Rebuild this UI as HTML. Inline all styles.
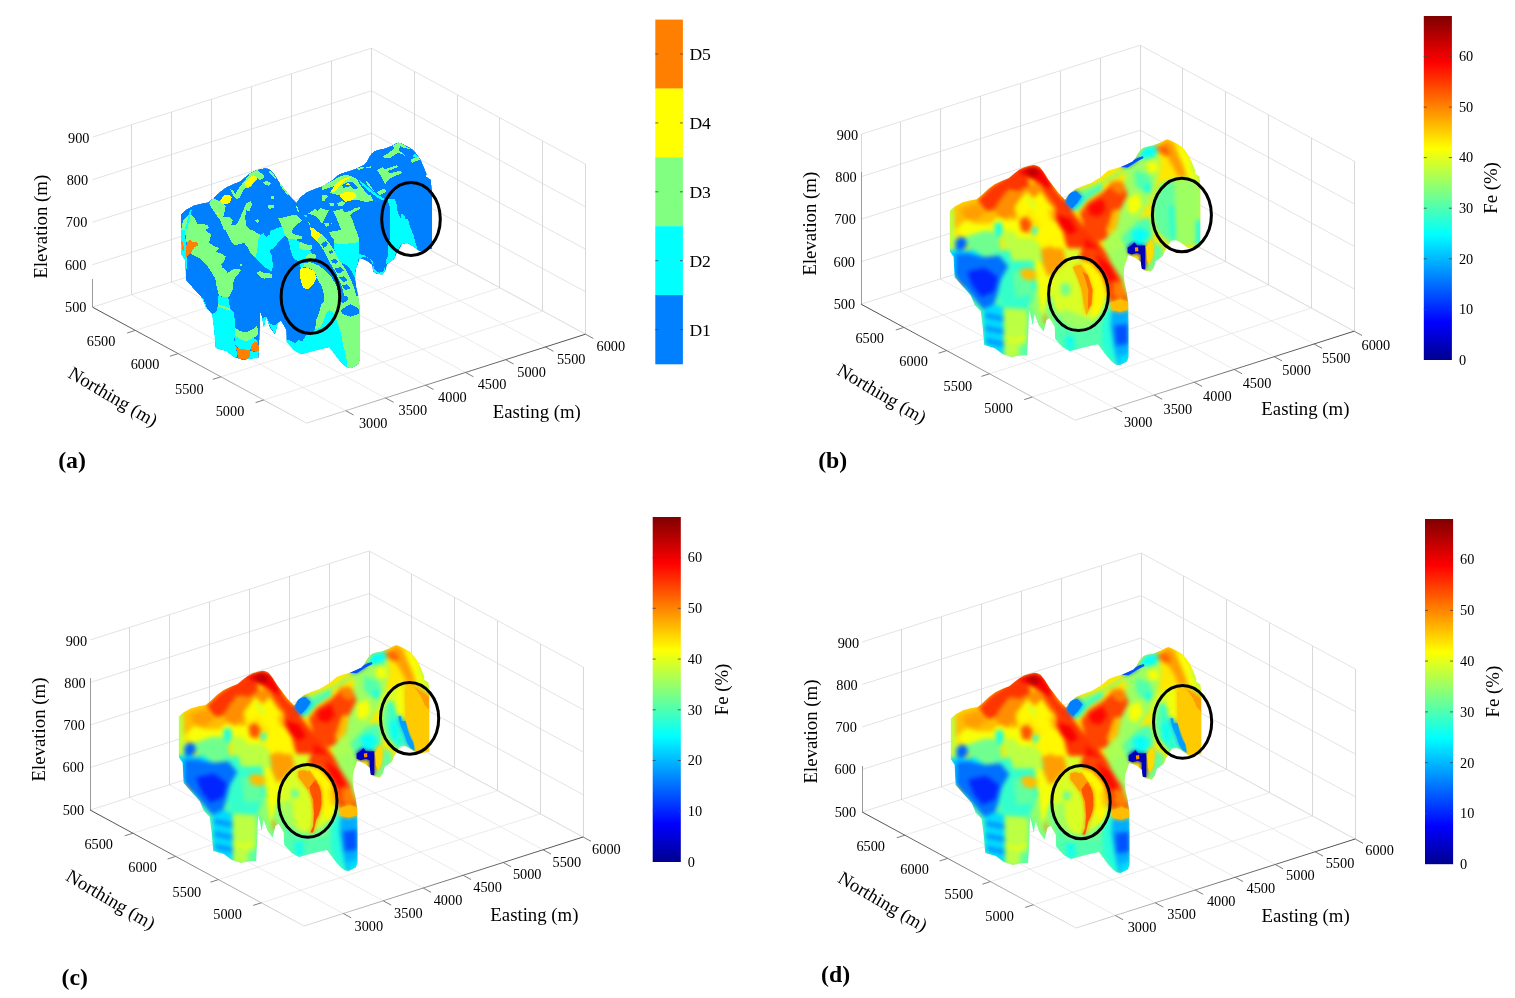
<!DOCTYPE html>
<html lang="en">
<head>
<meta charset="utf-8">
<title>Figure</title>
<style>
html,body{margin:0;padding:0;background:#fff}
body{width:1515px;height:998px;overflow:hidden}
svg{display:block;font-family:"Liberation Serif",serif;fill:#000}
.gv{stroke:#d8d8d8;stroke-width:1;fill:none;shape-rendering:crispEdges}
.gs{stroke:#dadada;stroke-width:.75;fill:none}
.gf{stroke:#e2e2e2;stroke-width:.7;fill:none}
.ax{stroke:#707070;stroke-width:.9;fill:none}
.axn{stroke:url(#gn);stroke-width:1;fill:none}
.axe{stroke:url(#ge);stroke-width:1;fill:none}
.axz{stroke:#9a9a9a;stroke-width:1;fill:none;shape-rendering:crispEdges}
.ct{stroke:#444;stroke-width:.8;fill:none}
.tk{font-size:14.3px}
.al{font-size:18.8px}
.dl{font-size:17.6px}
.pl{font-size:23.8px;font-weight:bold}
.el{fill:none;stroke:#000;stroke-width:3}
</style>
</head>
<body>
<svg width="1515" height="998" viewBox="0 0 1515 998">
<defs>
<linearGradient id="jet" x1="0" y1="1" x2="0" y2="0"><stop offset="0" stop-color="#00008f"/><stop offset="0.11" stop-color="#0000ff"/><stop offset="0.365" stop-color="#00ffff"/><stop offset="0.49" stop-color="#80ff80"/><stop offset="0.615" stop-color="#ffff00"/><stop offset="0.865" stop-color="#ff0000"/><stop offset="1" stop-color="#800000"/></linearGradient>
<linearGradient id="gn" gradientUnits="userSpaceOnUse" x1="92.5" y1="307.2" x2="306.5" y2="423.2"><stop offset="0" stop-color="#4c4c4c"/><stop offset="0.35" stop-color="#6e6e6e"/><stop offset="0.6" stop-color="#a0a0a0"/><stop offset="0.85" stop-color="#cecece"/><stop offset="1" stop-color="#e2e2e2"/></linearGradient>
<linearGradient id="ge" gradientUnits="userSpaceOnUse" x1="306.5" y1="423.2" x2="585.5" y2="334.2"><stop offset="0" stop-color="#dcdcdc"/><stop offset="0.3" stop-color="#a8a8a8"/><stop offset="0.55" stop-color="#707070"/><stop offset="1" stop-color="#505050"/></linearGradient>
<clipPath id="sil"><polygon points="181,214 186,209.5 194,205.2 201,203.5 208,202.2 213,198.2 219,192.5 226,187.2 233,184 240,181.2 245,177 250,173.1 255,170.5 260,169 265,168 268,168.5 271,170 275,175 280,183 285,189.5 290,196 296.4,202.7 300.4,197.2 306.4,192.2 314,189 322,186.2 332,180.2 339,174.1 345,172 352,170 358,167.5 364,164.6 367,161 369,157 371.5,153.5 374.2,151 379,149.5 384,148.6 388,147 392,145.5 395.5,143.5 398.7,142.2 402,143.5 407,146 412.3,149 416.5,153.5 420.3,159 422.5,163.5 424.3,168 426.8,174 426.3,176.6 430.8,179.6 431.5,185 432,190 432,249.5 430.3,249 425,250.5 419.3,251 415.3,248 411,245 407.3,243 402.2,244 399.2,249 396.2,254 394.2,259 390.2,262 387.2,264 385.2,271 382.2,274.6 379.2,274 376,273.5 373.2,271.6 372.2,265 368.5,262 365,260 359.6,258 358.1,263 355.6,270 355.1,278 356.1,286.2 358.1,295.2 359.6,305.2 360,330 360,360 358.3,364.7 351.3,368.2 347.3,367.7 343.3,364.7 338.3,359.2 332.3,351.2 329.3,347.2 316.2,350.2 301.2,354.2 294.1,350.2 286.6,342 286.1,330 281,321 278,323 275,334.6 270,328 266,317 264,328 262,318 260.5,313 259.5,340 258.5,358.5 256.3,358.2 250.2,358.7 243.2,360.2 234.2,357.2 226.2,351.2 215.6,348.1 214.1,330.1 212.1,314 206.1,308 202.1,298.2 193,288.2 186,280.2 185,260 181,254"/></clipPath>
<filter id="bl" x="-10%" y="-10%" width="120%" height="120%" color-interpolation-filters="sRGB"><feGaussianBlur stdDeviation="2.1"/></filter>
<filter id="bs" x="-10%" y="-10%" width="120%" height="120%" color-interpolation-filters="sRGB"><feGaussianBlur stdDeviation="0.7"/></filter>
<g id="js">
<polygon points="359,250.6 362.6,248.4 365.8,245.2 368.4,248.4 376.5,248.4 376.7,272.2 372.2,272.2 372.2,257.5 368.4,256 363,257.5 359,256" fill="#0000bc"/>
<polygon points="366.2,250.6 369.5,250.2 369.8,254.2 366.6,254.6" fill="#ff8e00"/>
<polygon points="377.4,250.2 382.1,243 385.1,248.4 384.2,259.3 380.6,267.4 378.3,262.9" fill="#ffda00"/>
<polygon points="297.3,204.8 300.4,196.1 307.6,194 313,199.4 308.5,206.1 303.4,211.5" fill="#0080ff"/>
<polygon points="351.8,170 362.6,164.6 369.8,160.4 374.3,159.2 374.9,161.1 368,164.7 359,170.5" fill="#0052ff"/>
<polygon points="341.9,305.7 351.8,302.2 359.9,304.9 359.9,312.2 351.8,314.7 343.1,313.1" fill="#ffbc00"/>
<polygon points="304,270.1 312.1,267.4 319.7,278.3 324.4,292.7 323.3,307.1 317.9,318.3 315.3,307.1 313,292.7 309.4,281.9" fill="#ffac00"/>
<polygon points="313.9,274.6 319.3,278.3 323.8,292.7 322.9,307.1 319.3,312.5 319.7,292.7 316.6,281.9" fill="#ff7100"/>
</g>
<g id="jb">
<polygon points="159.4,120 321.9,120 321.9,230.6 159.4,230.6" fill="#ff5300"/>
<polygon points="179.4,216.3 193.5,204.2 207.5,200.2 210.5,204.2 217.6,213.3 223.6,218.3 219.6,223.3 209.5,224.3 199.5,226.3 189.5,230.6 179.4,230.6" fill="#ffca00"/>
<polygon points="185.5,218.3 199.5,210.3 209.5,212.3 213.5,220.3 204.5,223.3 194.5,226.3 185.5,230.6" fill="#ffe800"/>
<polygon points="179.4,212.3 184.4,212.3 185.5,220.3 184.4,230.6 179.4,230.6" fill="#bcff43"/>
<polygon points="213.5,195.2 225.6,187.2 239.6,181.2 248.7,174.1 252.7,182.2 245.7,188.2 241.6,196.2 239.6,206.3 233.6,215.3 223.6,218.3 217.6,213.3 210.5,204.2 212.5,199.2" fill="#ff7100"/>
<polygon points="211.5,199.2 217.6,200.2 225.6,206.3 223.6,213.3 217.6,210.3 211.5,205.2" fill="#ff2500"/>
<polygon points="231.6,189.2 239.6,191.2 240.6,196.2 237.6,199.2 233.6,195.2" fill="#ff3500"/>
<polygon points="248.7,174.1 254.7,169.6 264.7,167.1 271.2,169.1 275.2,175.1 279.8,184.2 274.7,186.2 269.7,184.2 264.7,182.2 259.7,180.2 254.7,177.2" fill="#ff0700"/>
<polygon points="256.7,173.1 263.7,174.1 264.7,178.2 261.7,180.2 257.7,177.2" fill="#ca0000"/>
<polygon points="263.7,180.7 269.7,181.2 270.7,184.2 265.7,185.2" fill="#da0000"/>
<polygon points="252.7,182.2 259.7,186.2 265.7,190.2 271.7,194.2 275.8,202.2 269.7,200.2 263.7,192.2 255.7,194.2 249.7,202.2 245.7,208.3 239.6,206.3 241.6,196.2 245.7,188.2" fill="#ff9e00"/>
<polygon points="255.7,194.2 263.7,192.2 269.7,199.2 271.7,206.3 268.7,215.3 263.7,220.3 259.7,230.6 249.7,230.6 246.7,220.3 248.7,210.3 251.7,202.2" fill="#f8ff07"/>
<polygon points="258.7,197.2 264.7,196.2 267.7,204.2 264.7,210.3 259.7,208.3" fill="#caff35"/>
<polygon points="259.7,216.3 268.7,215.3 273.7,220.3 269.7,230.6 259.7,230.6" fill="#ffda00"/>
<polygon points="274.7,175.1 279.8,184.2 289.8,194.2 297.3,203.7 302.8,213.3 309.9,224.3 312.9,230.6 284.8,230.6 281.8,220.3 277.8,210.3 275.8,202.2 271.7,194.2 269.7,184.2" fill="#ff4300"/>
<polygon points="278.8,182.2 289.8,194.2 296.8,203.7 294.8,206.3 287.8,198.2 279.8,189.2" fill="#f80000"/>
<polygon points="275.8,202.2 281.8,200.2 287.8,206.3 289.8,215.3 286.8,220.3 281.8,220.3 277.8,210.3" fill="#ffbc00"/>
<polygon points="288.8,215.3 294.8,213.3 299.8,218.3 297.8,222.3 291.8,223.3" fill="#f80000"/>
<polygon points="268.7,205.2 273.7,204.7 274.2,208.3 269.7,208.8" fill="#ff8e00"/>
<polygon points="189.5,230.6 199.5,226.3 209.5,224.3 219.6,223.3 223.6,218.3 233.6,215.3 239.6,216.3 244.6,216.3 245.7,224.3 239.6,225.3 233.6,223.3 227.6,226.3 225.6,230.6" fill="#f8ff07"/>
<polygon points="245.7,209.3 249.7,210.3 253.7,215.3 252.7,222.3 248.7,228.3 245.7,224.3 244.6,216.3" fill="#52ffac"/>
<polygon points="227.6,226.3 233.6,223.3 239.6,225.3 237.6,230.6 225.6,230.6" fill="#16ffe9"/>
<polygon points="241.6,213.3 244.6,212.3 246.7,218.3 243.6,222.3 240.6,220.3" fill="#ff9e00"/>
<polygon points="305.9,191.2 322.4,186 322.4,195.2 313.9,198.2 311.9,194.2" fill="#52ffac"/>
<polygon points="300.8,209.3 304.8,206.3 309.9,200.2 313.9,198.2 322.4,195.2 322.4,202.2 309.9,209.3 303.8,214.3" fill="#07fff8"/>
<polygon points="296.8,204.2 299.8,196.2 305.9,191.2 311.9,194.2 309.9,200.2 304.8,206.3 300.8,209.3" fill="#008eff"/>
<polygon points="303.8,214.3 322.4,201.7 322.4,204.2 304.8,216.5" fill="#fff800"/>
<polygon points="304.8,216.5 322.4,204.2 322.4,230.6 312.9,230.6 309.9,224.3" fill="#ff5300"/>
<polygon points="321.4,120 473.9,120 473.9,230.6 321.4,230.6" fill="#acff53"/>
<polygon points="321.4,184.7 331.4,179.2 338.5,174.1 351.5,170.1 355.5,172.1 346.5,176.2 339.5,182.2 331.4,188.2 321.4,190.2" fill="#ffbc00"/>
<polygon points="321.4,190.2 331.4,188.2 337.5,186.2 338.5,190.2 331.4,196.2 321.4,200.2" fill="#43ffbc"/>
<polygon points="355.5,172.1 361.5,174.1 365.5,180.2 369.6,187.2 375.6,194.2 381.6,200.2 383.6,210.3 382.6,230.6 341.5,230.6 346.5,215.3 351.5,206.3 356.5,198.2 355.5,190.2 349.5,185.2 341.5,184.2 339.5,182.2 346.5,176.2" fill="#f8ff07"/>
<polygon points="321.4,200.2 331.4,196.2 338.5,190.2 341.5,184.2 349.5,185.2 355.5,190.2 356.5,198.2 351.5,206.3 346.5,215.3 344.5,225.3 341.5,230.6 321.4,230.6" fill="#ff4300"/>
<polygon points="321.4,204.2 331.4,200.2 339.5,194.2 343.5,200.2 339.5,210.3 335.4,220.3 327.4,226.3 321.4,220.3" fill="#ff1700"/>
<polygon points="346.5,200.2 356.5,198.2 354.5,206.3 349.5,212.3 346.5,215.3" fill="#ff8e00"/>
<polygon points="358.5,186.2 361.5,185.2 363.5,190.2 360.5,192.2" fill="#ffbc00"/>
<polygon points="371.6,216.3 379.6,218.3 381.6,224.3 375.6,222.3" fill="#ffca00"/>
<polygon points="355.5,171.1 375.6,161.1 386.6,155.1 389.6,157.1 393.6,155.1 399.7,164.1 403.7,172.1 406.7,180.2 397.7,186.2 391.6,194.2 381.6,198.2 377.6,194.2 371.6,186.2 365.5,180.2 361.5,174.1" fill="#70ff8e"/>
<polygon points="377.6,170.1 386.6,166.1 394.6,168.1 397.7,173.1 391.6,176.2 383.6,175.1" fill="#e8ff17"/>
<polygon points="365.5,180.2 369.6,181.2 377.6,190.2 382.6,195.2 380.6,198.2 375.6,194.2 369.6,187.2" fill="#16ffe9"/>
<polygon points="368.6,154.1 373.6,150.1 383.6,147.6 391.6,146.1 386.6,155.1 377.6,159.1 371.6,161.1 367.6,160.1" fill="#07fff8"/>
<polygon points="350.5,170.6 361.5,164.6 367.6,159.6 371.6,161.1 377.6,159.1 375.6,161.1 364.5,167.1 355.5,171.6" fill="#0052ff"/>
<polygon points="401.7,150.1 411.7,148.1 417.7,157.1 421.7,163.1 424.7,170.1 426.7,175.1 432.3,179.7 432.3,186.2 421.7,182.2 417.7,180.2 415.7,176.2 411.7,168.1 406.7,160.1" fill="#f8ff07"/>
<polygon points="417.7,159.1 421.7,163.1 425.7,170.1 427.8,175.1 424.7,174.1 420.7,168.1" fill="#9eff62"/>
<polygon points="393.6,155.1 401.7,153.1 406.7,160.1 411.7,168.1 415.7,176.2 417.7,180.2 406.7,180.2 403.7,172.1 399.7,164.1" fill="#ffac00"/>
<polygon points="390.6,146.1 398.7,141.5 404.7,143 411.7,148.1 415.7,154.1 411.7,156.1 406.7,152.1 401.7,150.1 397.7,150.1 393.6,153.1 389.6,157.1 386.6,155.1" fill="#ff8e00"/>
<polygon points="387.6,152.1 395.6,149.1 399.7,152.1 395.6,156.1 390.6,157.1" fill="#ff6200"/>
<polygon points="397.7,186.2 406.7,180.2 417.7,180.2 421.7,182.2 432.3,186.2 432.3,200.2 406.7,200.2 397.7,194.2" fill="#bcff43"/>
<polygon points="381.6,198.2 391.6,194.2 397.7,186.2 406.7,186.2 406.7,230.6 382.6,230.6 383.6,210.3" fill="#43ffbc"/>
<polygon points="406.7,190.2 432.3,192.2 432.3,230.6 406.7,230.6" fill="#8eff71"/>
<polygon points="401.7,210.3 405.7,209.3 406.7,230.6 402.7,230.6" fill="#16ffe9"/>
<polygon points="425.7,215.3 432.3,215.3 432.3,230.6 425.7,230.6" fill="#62ff9e"/>
<polygon points="159.4,230 321.9,230 321.9,330.6 159.4,330.6" fill="#52ffac"/>
<polygon points="179.4,230 193.5,230 192.5,236 189.5,240 185.5,244 181.4,250.1 179.4,250.1" fill="#fff800"/>
<polygon points="193.5,230 229.6,230 231.6,240 239.6,245 247.7,250.1 251.7,256.1 249.7,263.1 243.6,270.1 241.6,264.1 231.6,260.1 225.6,259.1 219.6,255.1 209.5,255.1 199.5,250.1 198.5,245 196.5,242 192.5,236" fill="#9eff62"/>
<polygon points="193.5,253.1 199.5,250.1 209.5,255.1 219.6,255.1 225.6,259.1 221.6,262.1 211.5,263.1 202.5,259.1" fill="#16ffe9"/>
<polygon points="179.4,250.1 186.5,256.1 186.5,282.2 184.4,276.2 182.4,260.1 179.4,260.1" fill="#07fff8"/>
<polygon points="186.5,256.1 193.5,253.1 202.5,259.1 211.5,263.1 221.6,262.1 225.6,268.1 231.6,272.1 239.6,269.1 241.6,271.1 235.6,278.2 233.6,286.2 229.6,294.2 228.6,300.2 229.6,306.3 225.6,304.2 219.6,302.2 213.5,308.3 212.5,313.3 207.5,310.3 201.5,298.2 194.5,290.2 186.5,282.2" fill="#0080ff"/>
<polygon points="187,245 190.5,239.5 196.5,242 198.5,245 193.5,250.1 189.5,254.1 186.5,256.1" fill="#0052ff"/>
<polygon points="201.5,278.2 214.5,280.2 229.6,272.1 233.6,282.2 229.6,290.2 219.6,286.2 209.5,290.2 209.5,300.2 202.5,296.2 195.5,286.2" fill="#0035ff"/>
<polygon points="217.6,286.2 225.6,286.2 226.6,294.2 219.6,296.2" fill="#008eff"/>
<polygon points="227.6,230 234.6,230 233.6,238 229.6,240" fill="#07fff8"/>
<polygon points="234.6,230 249.7,230 252.7,238 259.7,242 269.7,244 271.7,260.1 273.7,270.1 277.8,280.2 279.8,292.2 275.8,298.2 273.7,290.2 259.7,282.2 251.7,278.2 249.7,270.1 249.7,263.1 251.7,256.1 247.7,250.1 239.6,245 231.6,240 233.6,238" fill="#e8ff17"/>
<polygon points="248.7,233 254.7,230 261.7,230 264.7,236 261.7,240 254.7,239 250.7,237" fill="#ff5300"/>
<polygon points="265.7,233 269.7,233.5 269.2,238 266.2,237.5" fill="#16ffe9"/>
<polygon points="269.7,244 279.8,240 287.8,241 291.8,250.1 289.8,260.1 284.8,268.1 277.8,274.1 273.7,270.1 271.7,260.1" fill="#ffac00"/>
<polygon points="250.7,274.1 254.7,271.1 261.7,273.1 265.7,277.2 261.7,281.2 255.7,282.2 251.7,278.2" fill="#ffbc00"/>
<polygon points="287.8,241 299.8,238 303.8,242 309.9,250.1 315.9,256.1 307.9,260.1 299.8,262.1 291.8,260.1 291.8,250.1" fill="#f8ff07"/>
<polygon points="284.8,230 322.4,230 322.4,260.1 315.9,256.1 309.9,250.1 303.8,242 299.8,238 289.8,236" fill="#ff4300"/>
<polygon points="307.9,234 322.4,233 322.4,256.1 316.9,253.1 311.9,245" fill="#ff0700"/>
<polygon points="264.7,230 284.8,230 289.8,236 279.8,240 269.7,244 264.7,236" fill="#ffbc00"/>
<polygon points="229.6,294.2 235.6,278.2 241.6,271.1 249.7,270.1 251.7,278.2 259.7,282.2 273.7,290.2 275.8,298.2 274.7,310.3 269.7,312.3 259.7,310.3 254.7,306.3 239.6,306.3 231.6,304.2" fill="#34ffcb"/>
<polygon points="247.7,286.2 259.7,286.2 269.7,294.2 269.7,306.3 259.7,302.2 249.7,296.2" fill="#80ff80"/>
<polygon points="273.7,290.2 279.8,292.2 279.3,310.3 274.7,315.3" fill="#f8ff07"/>
<polygon points="235.6,310.3 255.7,310.3 256.7,330.6 234.6,330.6" fill="#bcff43"/>
<polygon points="212.5,313.3 219.6,302.2 229.6,306.3 234.6,310.3 234.6,330.6 213.5,330.6" fill="#00daff"/>
<polygon points="256.7,312.3 265.7,312.3 264.7,330.6 259.7,318.3" fill="#16ffe9"/>
<polygon points="265.7,312.3 273.7,310.3 275.8,320.3 274.7,330.6 267.7,330.6" fill="#acff53"/>
<polygon points="275.2,317.3 277.3,317.3 277.3,326.3 275.2,326.3" fill="#ff8e00"/>
<polygon points="279.8,292.2 284.8,268.1 299.8,262.1 309.9,267.1 322.4,282.2 322.4,330.6 279.8,330.6" fill="#caff35"/>
<polygon points="292.8,288.2 298.8,287.2 300.8,294.2 296.8,300.2 291.8,296.2" fill="#62ff9e"/>
<polygon points="287.8,300.2 299.8,302.2 309.9,310.3 309.9,330.6 289.8,330.6" fill="#8eff71"/>
<polygon points="309.9,267.1 322.4,263.1 322.4,282.2 315.9,275.1" fill="#fff800"/>
<polygon points="304.8,270.1 309.9,267.1 315.9,275.1 322.4,282.2 322.4,320.3 317.9,310.3 314.9,295.2 309.9,282.2" fill="#ff9e00"/>
<polygon points="321.4,230 473.9,230 473.9,330.6 321.4,330.6" fill="#52ffac"/>
<polygon points="321.4,230 341.5,230 339.5,236 334.4,243 331.4,247.1 325.4,238 321.4,233" fill="#ff9e00"/>
<polygon points="334.4,243 339.5,236 341.5,230 357.5,230 356.5,238 351.5,242 341.5,246.1 337.5,255.1" fill="#f8ff07"/>
<polygon points="341.5,246.1 351.5,242 356.5,238 358.5,243 359,258.1 355.5,270.1 355,278.2 350.5,272.1 344.5,263.1 337.5,255.1" fill="#acff53"/>
<polygon points="355.5,255.1 359.5,258.1 357.5,270.1 355,270.1" fill="#43ffbc"/>
<polygon points="321.4,233 325.4,238 331.4,247.1 337.5,255.1 344.5,263.1 350.5,272.1 353.5,280.2 356.5,290.2 358.5,300.2 360,304.2 341.5,304.2 339.5,294.2 336.4,282.2 331.4,270.1 325.4,262.1 321.4,260.1" fill="#ff4300"/>
<polygon points="341.5,278.2 351.5,277.2 355.5,290.2 357.5,300.2 346.5,300.2" fill="#ff8000"/>
<polygon points="327.4,250.1 335.4,256.1 341.5,266.1 337.5,270.1 331.4,262.1" fill="#ff2500"/>
<polygon points="357.5,230 383.6,230 381.6,240 377.6,248.1 365.5,245 361.5,247.1 358.5,243" fill="#07fff8"/>
<polygon points="359.5,251.1 365.5,245 377.6,248.1 376.6,257.1 375.6,271.6 373.1,271.6 372.6,260.1 369.6,254.1 363.5,257.1 359.5,257.1" fill="#0000bc"/>
<polygon points="365.5,251.6 369.1,251.1 369.6,254.6 366,255.1" fill="#ff8e00"/>
<polygon points="359.5,257.1 363.5,257.1 369.6,254.1 372.6,260.1 372.6,265.1 364.5,260.1" fill="#62ff9e"/>
<polygon points="377.6,248.1 381.6,240 384.6,235 385.6,245 384.6,260.1 381.6,267.1 378.6,268.1 376.1,262.1 376.6,257.1" fill="#ffda00"/>
<polygon points="385.6,245 391.6,248.1 397.7,250.1 395.6,254.1 393.6,259.1 386.6,264.1 384.6,271.1 381.6,274.6 378.6,274.1 375.6,271.6 378.6,268.1 381.6,267.1 384.6,260.1" fill="#62ff9e"/>
<polygon points="383.6,230 432.3,230 432.3,250.1 418.7,251.1 411.7,247.1 406.7,243 401.7,244 397.7,250.1 391.6,248.1 385.6,245 384.6,235" fill="#70ff8e"/>
<polygon points="383.6,230 406.7,230 406.7,243 401.7,244 397.7,250.1 391.6,248.1 385.6,245" fill="#43ffbc"/>
<polygon points="427.8,238 432.3,238 432.3,250.1 427.8,250.1" fill="#00bcff"/>
<polygon points="391.6,246.1 398.7,245 399.7,250.1 395.6,254.1 391.6,250.1" fill="#07fff8"/>
<polygon points="321.4,263.1 327.4,265.1 334.4,278.2 338.5,290.2 339.5,300.2 338,320.3 331.4,326.3 321.4,330.6" fill="#f8ff07"/>
<polygon points="321.4,286.2 323.9,288.2 323.4,304.2 321.4,304.2" fill="#ff9e00"/>
<polygon points="341.5,306.3 349.5,303.2 360,305.2 360.5,312.3 351.5,316.3 343.5,314.3" fill="#ffca00"/>
<polygon points="337.5,320.3 343.5,316.3 351.5,317.3 360.5,313.3 361,330.6 337.5,330.6" fill="#00e9ff"/>
<polygon points="347.5,323.3 360.5,320.3 361,330.6 346.5,330.6" fill="#008eff"/>
<polygon points="321.4,330.6 331.4,326.3 338,320.3 337.5,330.6" fill="#62ff9e"/>
<polygon points="159.4,330.1 321.9,330.1 321.9,410.4 159.4,410.4" fill="#52ffac"/>
<polygon points="202.5,300 217.6,300 213.5,313 210.5,314 205.5,308" fill="#0043ff"/>
<polygon points="213.5,313 217.6,300 231.6,300 234.6,312 235.6,330.1 234.6,348.2 236.6,357.2 233.6,359.2 225.6,352.2 214.5,349.2 212.5,330.1" fill="#00e9ff"/>
<polygon points="217.6,308 231.6,313 233.6,317.1 219.6,313" fill="#009eff"/>
<polygon points="217.6,322.1 231.6,325.1 233.6,329.1 219.6,326.1" fill="#009eff"/>
<polygon points="216.6,338.1 233.6,341.1 233.6,347.2 217.6,344.1" fill="#009eff"/>
<polygon points="231.6,300 259.7,300 259.7,312 255.7,313 235.6,311 234.6,306" fill="#43ffbc"/>
<polygon points="235.6,311 255.7,313 258.7,330.1 258.7,350.2 256.7,359.2 249.7,360.2 243.6,361.7 237.6,359.2 235.6,348.2 235.1,330.1" fill="#bcff43"/>
<polygon points="236.6,338.1 245.7,342.1 257.7,337.1 257.7,340.1 245.7,345.1 236.6,341.1" fill="#e8ff17"/>
<polygon points="250.7,351.2 258.7,350.2 256.7,359.2 249.7,360.2" fill="#52ffac"/>
<polygon points="259.7,300 265.7,300 265.7,326.1 263.7,329.1 261.7,326.1 259.7,318.1" fill="#07fff8"/>
<polygon points="265.7,312 274.7,315 277.3,325.1 274.7,334.6 269.7,327.1 265.7,326.1" fill="#acff53"/>
<polygon points="273.7,300 279.8,300 278.8,314 275.8,317.1 274.7,315" fill="#f8ff07"/>
<polygon points="275.2,317.1 277.8,317.1 277.8,326.6 275.2,326.6" fill="#ff8e00"/>
<polygon points="279.8,300 322.4,300 322.4,348.2 313.9,352.2 300.8,355.2 293.8,352.2 285.8,341.1 285.8,333.1 279.8,321.1" fill="#62ff9e"/>
<polygon points="285.8,341.1 297.8,343.1 304.8,340.1 322.4,342.1 322.4,348.2 313.9,352.2 300.8,355.2 293.8,352.2" fill="#16ffe9"/>
<polygon points="171.4,160.1 445.6,133 445.6,313.9 171.4,313.9" fill="#ffe800"/>
<polygon points="178.6,214.2 194.8,205.2 211.1,199.7 218.3,214.2 225.5,212.4 229.1,219.6 221.9,226.8 207.5,226.8 196.7,223.2 189.4,230.4 178.6,234" fill="#ffbc00"/>
<polygon points="193,212.4 207.5,207 216.5,216 207.5,223.2 196.7,221.4" fill="#ff9e00"/>
<polygon points="178.6,210.6 185.8,210.6 186.7,259.3 178.6,259.3" fill="#bcff43"/>
<polygon points="189.4,230.4 196.7,223.2 207.5,226.8 221.9,226.8 229.1,219.6 239.9,223.2 243.6,234 236.3,241.2 225.5,234 214.7,234 203.9,237.6 193,241.2" fill="#f8ff07"/>
<polygon points="186.7,241.2 193,241.2 203.9,237.6 214.7,234 225.5,234 230.9,241.2 232.7,255.7 225.5,262.9 214.7,259.3 203.9,252 196.7,248.4 186.7,255.7" fill="#70ff8e"/>
<polygon points="225.5,226.8 232.7,225 234.5,234 230.9,241.2 227.3,237.6" fill="#16ffe9"/>
<polygon points="186.7,244.8 191.2,239.4 196.7,241.2 198.5,248.4 193,253.9 187.6,255.7" fill="#0062ff"/>
<polygon points="178.6,255.7 187.6,255.7 193,253.9 203.9,252 214.7,259.3 225.5,262.9 230.9,270.1 221.9,273.7 207.5,270.1 196.7,273.7 189.4,266.5 178.6,262.9" fill="#00e9ff"/>
<polygon points="178.6,262.9 189.4,266.5 189.4,284.5 182.2,277.3" fill="#07fff8"/>
<polygon points="185.8,273.7 196.7,273.7 207.5,270.1 221.9,273.7 230.9,270.1 239.9,270.1 239.9,277.3 232.7,288.1 229.1,298.9 225.5,313.9 207.5,313.9 200.3,295.3 189.4,284.5" fill="#0070ff"/>
<polygon points="207.5,277.3 225.5,275.5 232.7,282.7 225.5,295.3 211.1,295.3" fill="#0025ff"/>
<polygon points="209.3,202.4 221.9,189.8 236.3,180.8 249,171.8 258,179.9 261.6,187.1 250.8,194.3 239.9,192.5 232.7,201.5 225.5,212.4 218.3,214.2 212.9,208.8" fill="#ff3500"/>
<polygon points="225.5,212.4 232.7,201.5 239.9,192.5 250.8,194.3 261.6,187.1 268.8,185.3 272.4,194.3 265.2,201.5 258,194.3 249,205.2 243.6,212.4 239.9,223.2 229.1,219.6" fill="#ff8e00"/>
<polygon points="268.8,179.9 279.6,180.8 289.5,196.1 298.6,205.2 304.9,216 297.7,219.6 286.8,208.8 276,194.3" fill="#ff3500"/>
<polygon points="247.2,172.7 265.2,166.9 274.2,171.2 280.5,181.7 284.1,188.9 276,190.7 268.8,185.3 258,179.9" fill="#f80000"/>
<polygon points="256.2,171.8 268.8,171.8 269.7,179 261.6,180.3" fill="#bc0000"/>
<polygon points="268.8,185.3 276,194.3 286.8,208.8 286.8,223.2 279.6,205.2 272.4,194.3" fill="#ff7100"/>
<polygon points="249,205.2 258,194.3 265.2,201.5 272.4,194.3 279.6,205.2 286.8,212.4 283.2,223.2 272.4,226.8 265.2,219.6 261.6,210.6 256.2,217.8 249,216" fill="#fff800"/>
<polygon points="256.2,197.9 265.2,203.3 268.8,214.2 261.6,208.8" fill="#daff25"/>
<polygon points="239.9,223.2 250.8,223.2 252.6,234 259.8,235.8 265.2,241.2 250.8,241.2 243.6,234" fill="#f8ff07"/>
<polygon points="250.8,223.2 258,219.6 263.4,226.8 259.8,235.8 252.6,234" fill="#ff5300"/>
<polygon points="241.7,212.4 245.7,210.6 247.5,221.4 243.6,223.2" fill="#ff8e00"/>
<polygon points="263.4,230.4 268.8,230.4 269.7,237.6 264.3,238.5" fill="#16ffe9"/>
<polygon points="268.8,234 279.6,230.4 283.2,241.2 276,248.4 268.8,244.8" fill="#caff35"/>
<polygon points="279.6,212.4 286.8,212.4 290.4,223.2 283.2,226.8" fill="#ffbc00"/>
<polygon points="232.7,234 243.6,234 250.8,241.2 265.2,241.2 272.4,248.4 268.8,259.3 258,262.9 247.2,259.3 236.3,252" fill="#bcff43"/>
<polygon points="230.9,270.1 239.9,259.3 250.8,262.9 258,270.1 256.2,280.9 247.2,288.1 239.9,295.3 232.7,313.9 225.5,313.9 229.1,298.9 232.7,288.1 239.9,277.3" fill="#43ffbc"/>
<polygon points="247.2,288.1 256.2,280.9 265.2,284.5 279.6,295.3 281.4,313.9 239.9,313.9 239.9,295.3" fill="#80ff80"/>
<polygon points="265.2,241.2 272.4,226.8 283.2,223.2 294.1,226.8 297.7,241.2 301.3,255.7 297.7,270.1 286.8,277.3 272.4,280.9 261.6,277.3 258,270.1 268.8,259.3 272.4,248.4" fill="#fff800"/>
<polygon points="272.4,255.7 279.6,248.4 288.6,252 290.4,262.9 286.8,273.7 277.8,275.5 272.4,266.5" fill="#ffac00"/>
<polygon points="250.8,275.5 258,271.9 265.2,277.3 261.6,284.5 252.6,282.7" fill="#ffbc00"/>
<polygon points="286.8,208.8 297.7,219.6 304.9,216 315.7,230.4 326.5,241.2 337.3,255.7 348.2,273.7 355.4,291.7 359.9,313.9 341,313.9 333.7,295.3 326.5,280.9 315.7,266.5 304.9,259.3 297.7,248.4 294.1,234 286.8,223.2" fill="#ff3500"/>
<polygon points="288.6,217.8 301.3,221.4 308.5,234 301.3,237.6 292.3,230.4" fill="#f80000"/>
<polygon points="315.7,241.2 326.5,248.4 333.7,262.9 326.5,266.5 317.5,255.7" fill="#ff0700"/>
<polygon points="333.7,273.7 344.6,277.3 351.8,295.3 344.6,302.6 337.3,288.1" fill="#ff7100"/>
<polygon points="296.8,205.2 300.4,195.2 308.5,193.4 313.9,199.7 308.5,207 303.1,212.4" fill="#008eff"/>
<polygon points="303.1,212.4 308.5,207 313.9,199.7 326.5,192.5 333.7,187.1 333.7,192.5 319.3,201.5 308.5,214.2" fill="#16ffe9"/>
<polygon points="308.5,193.4 315.7,191.6 333.7,184.4 351.8,173.6 352.7,177.2 333.7,187.1 326.5,192.5 313.9,199.7" fill="#70ff8e"/>
<polygon points="308.5,214.2 319.3,201.5 333.7,192.5 351.8,177.2 357.2,178.1 344.6,186.2 333.7,196.1 319.3,205.2 311.2,216.3" fill="#ffe800"/>
<polygon points="311.2,216.3 319.3,205.2 333.7,196.1 344.6,185.3 355.4,187.1 359,197.9 351.8,212.4 348.2,230.4 341,241.2 330.1,244.8 326.5,241.2 315.7,230.4" fill="#ff4300"/>
<polygon points="319.3,208.8 333.7,201.5 337.3,212.4 330.1,219.6 321.1,217.8" fill="#ff0700"/>
<polygon points="341,185.3 351.8,183.5 357.2,190.7 353.6,197.9 344.6,194.3" fill="#ff8000"/>
<polygon points="344.6,212.4 351.8,212.4 348.2,230.4 341,241.2 337.3,234" fill="#ffbc00"/>
<polygon points="351.8,173.6 369.8,157.4 387.9,148.3 391.5,169.1 387.9,187.1 380.6,205.2 369.8,223.2 359,234 351.8,241.2 348.2,230.4 351.8,212.4 359,197.9 355.4,187.1 357.2,178.1" fill="#9eff62"/>
<polygon points="359,201.5 369.8,196.1 373.4,208.8 366.2,217.8 359,214.2" fill="#f8ff07"/>
<polygon points="377,165.5 387.9,163.7 389.7,174.5 380.6,176.3" fill="#f8ff07"/>
<polygon points="366.2,172.7 380.6,178.1 384.2,190.7 373.4,194.3 366.2,187.1" fill="#52ffac"/>
<polygon points="375.2,187.1 382.4,188.9 381.5,196.1 376.1,195.2" fill="#16ffe9"/>
<polygon points="350.9,170 362.6,164 369.8,159.7 368,164.6 359,170" fill="#0052ff"/>
<polygon points="368.9,159.2 375.2,150.1 389.7,147.1 390.6,154.6 384.2,160.1 375.2,161.9" fill="#07fff8"/>
<polygon points="386,151 399,142 405.9,147.4 409.5,156.4 414.9,169.1 418.5,179.9 409.5,179.9 404.1,169.1 398.7,160.1 391.5,156.4" fill="#ff9e00"/>
<polygon points="387.9,151 396.9,148.3 402.3,156.4 395.1,158.3" fill="#ff6200"/>
<polygon points="405.9,147.4 412.2,148.9 423.9,165.5 432,179.9 432,187.1 418.5,179.9 414.9,169.1 409.5,156.4" fill="#f8ff07"/>
<polygon points="420.3,163.7 425.7,167.3 432.9,181.7 432.9,187.1 427.5,179.9" fill="#acff53"/>
<polygon points="384.2,205.2 391.5,187.1 405.9,181.7 407.7,248.4 398.7,244.8 387.9,234 384.2,219.6" fill="#62ff9e"/>
<polygon points="405.9,181.7 418.5,179.9 432.9,187.1 432.9,250.2 420.3,248.4 407.7,248.4" fill="#9eff62"/>
<polygon points="400.5,208.8 405.9,208.8 406.8,241.2 402.3,241.2" fill="#25ffda"/>
<polygon points="427.5,223.2 432.9,223.2 432.9,248.4 427.5,248.4" fill="#16ffe9"/>
<polygon points="351.8,241.2 359,234 369.8,223.2 380.6,219.6 384.2,230.4 384.2,244.8 380.6,259.3 373.4,248.4 362.6,248.4 359,252" fill="#52ffac"/>
<polygon points="362.6,234 373.4,230.4 380.6,237.6 373.4,248.4 365.3,245.7" fill="#07fff8"/>
<polygon points="359,250.2 365.3,245.2 368,248.4 376.1,248.4 376.7,272.2 372.2,272.2 372.2,257.5 368,255.7 362.6,257.5 359,255.7" fill="#0000bc"/>
<polygon points="365.8,250.2 369.5,249.9 369.8,254.2 366.2,254.6" fill="#ff8e00"/>
<polygon points="377,248.4 382.4,241.2 385.7,248.4 384.8,259.3 380.6,267.4 377.9,262.9" fill="#ffca00"/>
<polygon points="384.8,244.8 393.3,248.4 395.1,259.3 387.9,270.1 380.6,275.5 377,271.9 380.6,267.4 384.8,259.3" fill="#62ff9e"/>
<polygon points="333.7,244.8 348.2,230.4 351.8,241.2 359,252 359,259.3 359.9,277.3 359,295.3 351.8,288.1 344.6,270.1 337.3,255.7" fill="#acff53"/>
<polygon points="355.4,248.4 359.9,252 360.4,295.3 356.3,288.1" fill="#52ffac"/>
<polygon points="281.4,295.3 290.4,273.7 308.5,261.1 326.5,270.1 337.3,288.1 339.1,313.9 281.4,313.9" fill="#daff25"/>
<polygon points="312.1,262.9 326.5,270.1 337.3,288.1 339.1,313.9 324.7,313.9 324.7,291.7 321.1,277.3" fill="#fff800"/>
<polygon points="304.9,270.1 313.9,266.5 321.1,277.3 324.7,291.7 323.8,313.9 313.9,313.9 313.9,295.3 310.3,280.9" fill="#ff9e00"/>
<polygon points="292.3,288.1 301.3,286.3 303.1,295.3 295.9,298.9" fill="#70ff8e"/>
<polygon points="171.4,289.1 445.6,289.1 445.6,433.9 171.4,433.9" fill="#52ffac"/>
<polygon points="225.5,253 283.2,253 283.2,307.1 225.5,307.1" fill="#52ffac"/>
<polygon points="178.6,253 200.3,253 207.5,260.2 196.7,263.8 189.4,271 185.8,278.3 178.6,271" fill="#00daff"/>
<polygon points="186.7,256.6 200.3,256.6 214.7,260.2 230.9,258.4 239.9,269.2 232.7,281.9 229.1,296.3 225.5,307.1 214.7,312.5 203.9,299.9 194.8,289.1 186.7,280.1" fill="#0070ff"/>
<polygon points="198.5,274.6 216.5,271 229.1,280.1 225.5,294.5 212.9,299.9 203.9,289.1" fill="#0025ff"/>
<polygon points="230.9,258.4 239.9,253 256.2,253 265.2,263.8 268.8,289.1 261.6,312.5 258,312.5 234.5,310.7 229.1,296.3 232.7,281.9 239.9,269.2" fill="#34ffcb"/>
<polygon points="243.6,274.6 261.6,274.6 265.2,298.1 247.2,299.9" fill="#62ff9e"/>
<polygon points="239.9,251.2 272.4,251.2 272.4,263.8 243.6,263.8" fill="#bcff43"/>
<polygon points="243.6,263.8 272.4,263.8 279.6,280.1 277.8,307.1 272.4,321.5 268.8,289.1 265.2,263.8" fill="#f8ff07"/>
<polygon points="250.8,272.8 261.6,271 268.8,276.4 265.2,283.7 254.4,281.9" fill="#ffbc00"/>
<polygon points="272.4,251.2 294.1,251.2 297.7,263.8 290.4,274.6 279.6,280.1 274.2,267.4" fill="#ff9e00"/>
<polygon points="279.6,280.1 290.4,274.6 297.7,263.8 286.8,274.6 281.4,296.3 277.8,307.1" fill="#f8ff07"/>
<polygon points="294.1,251.2 313.9,251.2 310.3,261.1 297.7,263.8" fill="#daff25"/>
<polygon points="214.7,312.5 225.5,307.1 234.5,310.7 235.4,359.4 225.5,354 215.6,347.7" fill="#00daff"/>
<polygon points="216.5,316.1 234.5,319.7 234.9,324.2 216.9,320.6" fill="#008eff"/>
<polygon points="216.5,328.8 234.9,332.4 234.9,336.9 216.9,333.3" fill="#008eff"/>
<polygon points="217.4,341.4 234.9,345 234.9,349.5 218.3,345.9" fill="#008eff"/>
<polygon points="235.4,310.7 258,312.5 259.2,325.2 256.5,359.4 243.6,361.2 235.4,359.4" fill="#bcff43"/>
<polygon points="236.3,338.7 247.2,342.3 258,337.8 258,341.4 247.2,345.9 236.3,342.3" fill="#e8ff17"/>
<polygon points="250.8,348.6 258,346.8 256.5,359.4 249.9,360.3" fill="#62ff9e"/>
<polygon points="258.9,312.5 268.8,289.1 272.4,321.5 277.8,307.1 281.4,307.1 286.8,328.8 286.8,337.8 279.6,325.2 277.8,321.5 276,335.1 268.8,328.8 261.6,312.5" fill="#8eff71"/>
<polygon points="275.1,317.9 277.8,317.9 277.8,327 275.1,327" fill="#ff8e00"/>
<polygon points="286.8,328.8 297.7,332.4 308.5,334.2 322.9,332.4 333.7,325.2 339.1,312.5 342.8,328.8 344.6,346.8 348.2,369.3 339.1,360.3 330.1,347.7 308.5,353.1 297.7,354 287.7,348.6" fill="#52ffac"/>
<polygon points="295.9,339.6 304.9,337.8 306.7,352.2 297.7,354" fill="#16ffe9"/>
<polygon points="333.7,325.2 339.1,312.5 342.8,312.5 341.9,328.8 344.6,346.8 349.1,369.3 339.1,360.3 333.7,346.8" fill="#25ffda"/>
<polygon points="342.8,312.5 360.8,312.5 360.8,363.9 351.8,368.4 349.1,369.3 344.6,346.8 341.9,328.8" fill="#00acff"/>
<polygon points="345.5,328.8 359,327 359.9,346.8 347.3,348.6" fill="#0052ff"/>
<polygon points="349.1,359.4 360.8,355.8 360.8,363.9 351.8,368.4" fill="#00daff"/>
<polygon points="341,305.3 351.8,301.7 360.3,304.4 360.3,312.5 351.8,315.2 342.8,313.4" fill="#ffca00"/>
<polygon points="313.9,251.2 326.5,251.2 341,263.8 351.8,280.1 359,298.1 360.3,305.3 351.8,301.7 341,305.3 337.3,289.1 330.1,274.6 321.1,263.8" fill="#ff4300"/>
<polygon points="326.5,256.6 341,267.4 348.2,281.9 341,285.5 331.9,271" fill="#ff0700"/>
<polygon points="344.6,285.5 353.6,285.5 359,298.1 351.8,301.7 344.6,298.1" fill="#ff8000"/>
<polygon points="341,263.8 344.6,251.2 359.9,251.2 360.8,298.1 359,298.1 351.8,280.1" fill="#9eff62"/>
<polygon points="281.4,296.3 286.8,274.6 297.7,263.8 310.3,261.1 322.9,265.6 333.7,278.3 339.1,296.3 333.7,314.3 322.9,328.8 310.3,333.3 297.7,328.8 286.8,316.1" fill="#daff25"/>
<polygon points="286.8,316.1 297.7,312.5 315.7,319.7 324.7,321.5 322.9,328.8 310.3,333.3 297.7,328.8" fill="#9eff62"/>
<polygon points="292.3,287.3 299.5,285.5 303.1,292.7 297.7,299.9 292.3,296.3" fill="#70ff8e"/>
<polygon points="312.1,263.8 322.9,265.6 333.7,278.3 339.1,296.3 333.7,314.3 324.7,321.5 322.9,307.1 323.8,292.7 319.3,278.3" fill="#fff800"/>
<polygon points="304.9,269.2 312.1,267.4 319.3,278.3 323.8,292.7 322.9,307.1 317.5,317.9 315.7,307.1 313.9,292.7 310.3,281.9" fill="#ff9e00"/>
<polygon points="359,251.2 377,251.2 376.5,271 372.5,271 372.5,256.6 362.6,256.6" fill="#0000bc"/>
<polygon points="377,251.2 385.1,251.2 383.3,265.6 378.8,268.3" fill="#ffca00"/>
<polygon points="385.1,251.2 396,251.2 387.9,269.2 380.6,275.5 377,271 383.3,265.6" fill="#62ff9e"/>
</g>
</defs>
<rect width="1515" height="998" fill="#fff"/>
<g id="panel-a">
<g transform="translate(0 0)">
<path class="gf" d="M131.7 294.7L345.7 410.7M171.6 282L385.6 398M211.6 269.2L425.6 385.2M251.6 256.5L465.6 372.5M291.6 243.7L505.6 359.7M331.5 231L545.5 347M371.5 218.2L585.5 334.2M135.3 330.4L414.3 241.4M178.1 353.6L457.1 264.6M220.9 376.8L499.9 287.9M263.7 400L542.7 311.1"/>
<path class="gs" d="M92.5 307.2L371.5 218.2M92.5 264.7L371.5 175.8M92.5 222.2L371.5 133.2M92.5 179.7L371.5 90.8M92.5 137.2L371.5 48.2M371.5 218.2L585.5 334.2M371.5 175.8L585.5 291.8M371.5 133.2L585.5 249.2M371.5 90.8L585.5 206.8M371.5 48.2L585.5 164.2"/>
<path class="gv" d="M131.7 294.7L131.7 124.7M171.6 282L171.6 112M211.6 269.2L211.6 99.2M251.6 256.5L251.6 86.5M291.6 243.7L291.6 73.7M331.5 231L331.5 61M371.5 218.2L371.5 48.2M414.3 241.4L414.3 71.4M457.1 264.6L457.1 94.6M499.9 287.9L499.9 117.9M542.7 311.1L542.7 141.1M585.5 334.2L585.5 164.2"/>
<line class="axz" x1="92.5" y1="307.2" x2="92.5" y2="279.1"/>
<line class="axn" x1="92.5" y1="307.2" x2="306.5" y2="423.2"/>
<line class="axe" x1="306.5" y1="423.2" x2="585.5" y2="334.2"/>
<path class="ax" d="M135.3 330.4L127.2 333M178.1 353.6L170 356.2M220.9 376.8L212.8 379.4M263.7 400L255.6 402.6M345.7 410.7L353.6 415M385.6 398L393.6 402.3M425.6 385.2L433.5 389.5M465.6 372.5L473.5 376.8M505.6 359.7L513.5 364M545.5 347L553.4 351.3M585.5 334.2L593.4 338.5"/>
<g clip-path="url(#sil)" shape-rendering="crispEdges">
<polygon points="181,214 186,209.5 194,205.2 201,203.5 208,202.2 213,198.2 219,192.5 226,187.2 233,184 240,181.2 245,177 250,173.1 255,170.5 260,169 265,168 268,168.5 271,170 275,175 280,183 285,189.5 290,196 296.4,202.7 300.4,197.2 306.4,192.2 314,189 322,186.2 332,180.2 339,174.1 345,172 352,170 358,167.5 364,164.6 367,161 369,157 371.5,153.5 374.2,151 379,149.5 384,148.6 388,147 392,145.5 395.5,143.5 398.7,142.2 402,143.5 407,146 412.3,149 416.5,153.5 420.3,159 422.5,163.5 424.3,168 426.8,174 426.3,176.6 430.8,179.6 431.5,185 432,190 432,249.5 430.3,249 425,250.5 419.3,251 415.3,248 411,245 407.3,243 402.2,244 399.2,249 396.2,254 394.2,259 390.2,262 387.2,264 385.2,271 382.2,274.6 379.2,274 376,273.5 373.2,271.6 372.2,265 368.5,262 365,260 359.6,258 358.1,263 355.6,270 355.1,278 356.1,286.2 358.1,295.2 359.6,305.2 360,330 360,360 358.3,364.7 351.3,368.2 347.3,367.7 343.3,364.7 338.3,359.2 332.3,351.2 329.3,347.2 316.2,350.2 301.2,354.2 294.1,350.2 286.6,342 286.1,330 281,321 278,323 275,334.6 270,328 266,317 264,328 262,318 260.5,313 259.5,340 258.5,358.5 256.3,358.2 250.2,358.7 243.2,360.2 234.2,357.2 226.2,351.2 215.6,348.1 214.1,330.1 212.1,314 206.1,308 202.1,298.2 193,288.2 186,280.2 185,260 181,254" fill="#0080FF"/>
<polygon points="230.2,189.2 232.7,190.2 235.2,194.2 240.2,186.2 245.2,180.2 250.3,173.1 257.3,170.1 259.3,172.1 264.3,175.1 263.3,178.2 260.3,180.2 257.3,178.2 254.3,182.2 250.3,187.2 245.2,188.2 242.2,192.2 239.2,198.2 236.2,199.2 233.2,195.2" fill="#80FF80"/>
<polygon points="246.3,181.2 250.3,177.2 253.3,175.1 256.3,176.2 257.3,179.2 254.3,181.2 251.3,185.2 248.3,187.2 245.2,186.2 244.7,183.2" fill="#FFFF00"/>
<polygon points="263.3,182.2 266.3,181.2 270.3,182.2 270.8,184.2 268.3,185.7 264.3,184.2" fill="#80FF80"/>
<polygon points="268.3,171.1 271.3,171.6 276.4,178.2 275.3,179.2 271.3,175.1" fill="#80FF80"/>
<polygon points="279.4,184.2 281.4,184.7 290.4,196.2 289.4,197.2 283.4,190.2" fill="#80FF80"/>
<polygon points="295.9,206.3 297.4,206.3 299.4,211.3 297.9,211.3" fill="#80FF80"/>
<polygon points="271.3,196.2 273.3,195.7 274.3,198.2 272.3,199.2" fill="#80FF80"/>
<polygon points="267.3,205.7 272.8,204.7 273.8,207.8 269.3,208.8" fill="#80FF80"/>
<polygon points="255.3,220.3 257.8,219.3 259.3,221.8 257.3,223.3" fill="#80FF80"/>
<polygon points="209.1,203.2 213.1,198.2 222.2,202.2 225.7,206.3 224.2,213.3 223.2,217.3 230.2,217.3 232.7,220.3 231.2,225.3 235.2,225.3 238.2,222.3 240.2,217.3 243.2,210.3 246.3,203.2 250.3,201.2 252.3,204.2 249.3,211.3 246.3,210.3 245.2,217.3 246.3,226.3 250.3,230.3 224.2,230.3 220.2,220.3 215.1,213.3 211.1,207.3" fill="#80FF80"/>
<polygon points="220.2,200.2 224.2,195.2 230.2,195.2 231.7,197.2 230.2,202.2 226.2,204.2 222.2,204.2" fill="#FFFF00"/>
<polygon points="216.2,212.8 218.2,212.3 219.7,214.8 217.7,215.3" fill="#FFFF00"/>
<polygon points="181,230.3 183,220.3 188.1,215.3 192.1,215.3 196.1,220.3 197.1,224.3 203.1,223.8 208.1,225.3 208.6,227.8 205.1,230.3" fill="#80FF80"/>
<polygon points="185,229.3 190.1,210.3 191.6,210.3 187.1,229.3" fill="#00FFFF"/>
<polygon points="277.9,218.3 280.4,217.3 285.4,218.3 290.4,216.3 296.4,214.3 299.4,217.3 301.4,220.3 298.4,223.3 294.4,226.3 291.9,230.3 280.4,230.3 278.9,223.3" fill="#80FF80"/>
<polygon points="307.5,213.3 314.5,209.3 318.5,208.3 322,208.3 323,224.3 318.5,218.3 315.5,214.3 310.5,215.3" fill="#80FF80"/>
<polygon points="304.4,215.3 307.5,214.3 307,216.8 304.9,217.3" fill="#00FFFF"/>
<polygon points="275.3,227.8 283.4,226.8 284.4,230.3 274.3,230.3" fill="#00FFFF"/>
<polygon points="392.2,146.1 398.8,142.2 402.3,144 407.3,147.1 411.3,149.1 404.3,148.1 400.3,146.1 398.3,150.1 401.3,152.1 405.3,156.1 402.3,154.1 398.3,153.1 394.2,155.1 391.2,157.6 384.2,157.6 383.2,156.1 388.2,153.1 392.2,150.1 394.2,148.1" fill="#80FF80"/>
<polygon points="412.3,156.1 415.3,153.6 418.8,157.1 416.3,158.1" fill="#00FFFF"/>
<polygon points="410.3,160.1 414.3,158.1 418.3,157.1 419.8,159.6 416.3,161.1 412.3,163.1" fill="#80FF80"/>
<polygon points="377.2,170.1 382.2,167.1 385.2,169.1 397.2,165.1 398.3,167.1 387.2,171.1 390.2,173.1 400.3,170.6 402.3,173.1 392.2,177.2 388.2,180.2 385.2,184.2 382.2,178.2" fill="#80FF80"/>
<polygon points="357.1,168.6 363.1,166.6 364.1,168.1 358.1,170.1" fill="#80FF80"/>
<polygon points="366.1,167.1 371.2,166.3 371.4,167.6 366.6,168.3" fill="#80FF80"/>
<polygon points="322,185.7 332,181.2 338.1,177.2 344.1,175.1 351.1,175.7 357.1,179.2 359.1,183.2 364.1,190.2 369.2,195.2 373.2,201.7 365.1,202.2 362.1,200.2 356.1,199.2 347.1,202.2 343.6,202.2 340.1,196.2 335,194.2 330,193.2 334,186.2 328,188.2 322,190.2" fill="#80FF80"/>
<polygon points="342.1,185.2 347.1,182.2 352.1,182.2 356.1,185.2 358.1,188.2 354.1,189.2 350.1,186.2 346.1,187.2 343.1,188.2" fill="#0080FF"/>
<polygon points="330.5,192.2 335,184.2 342.1,179.2 349.1,176.7 351.1,177.7 344.1,181.2 339.1,186.2 335,192.2" fill="#FFFF00"/>
<polygon points="339.1,195.2 345.1,192.2 354.1,192.2 356.6,196.2 352.1,198.2 347.1,199.2 346.1,201.7 343.1,202.2 341.1,198.2" fill="#FFFF00"/>
<polygon points="345.6,183.7 349.1,183.2 351.1,185.2 347.1,185.2" fill="#FFFF00"/>
<polygon points="359.1,180.2 362.1,182.2 374.2,192.2 382.2,198.2 384.2,200.2 383.2,201.7 378.2,198.2 370.2,192.2 362.1,185.2" fill="#00FFFF"/>
<polygon points="365.6,180.2 368.2,182.2 374.2,191.2 372.2,190.2 367.1,184.2" fill="#80FF80"/>
<polygon points="377.2,192.2 382.2,189.2 386.2,189.7 385.7,192.2 380.2,194.7 377.7,194.2" fill="#80FF80"/>
<polygon points="386.2,200.2 390.2,198.2 393.2,198.7 396.7,202.2 398.3,210.3 399.8,215.3 401.3,214.3 403.3,215.3 404.3,218.3 407.3,219.3 408.3,225.3 410.3,230.3 390.2,230.3 390.2,206.3 387.2,204.2" fill="#00FFFF"/>
<polygon points="322,209.3 328,210.3 326,216.3 322,220.3" fill="#80FF80"/>
<polygon points="333,210.3 337,208.3 343.1,207.3 345.1,209.3 348.1,210.3 359.1,207.3 360.1,208.8 351.1,213.3 355.1,224.3 355.1,230.3 341.1,230.3 338.1,220.3 334,213.3" fill="#80FF80"/>
<polygon points="329,203.7 333,203.2 333.5,205 330,205.4" fill="#80FF80"/>
<polygon points="324,223.8 328,222.8 332,224.3 331,226.3 326,227.8" fill="#80FF80"/>
<polygon points="181,230 185,230 186.1,250.1 187.1,257.1 186.1,278.2 185,276.2 184,262.1 181.5,258.1" fill="#00FFFF"/>
<polygon points="185,230 205.1,230 209.1,233 211.1,235 209.1,243 214.1,246.1 219.2,248.1 216.2,251.6 222.2,254.1 225.7,256.6 224.2,261.1 221.2,264.1 222.2,267.6 226.2,270.1 227.7,273.1 230.2,271.1 234.2,269.1 240.2,269.1 240.7,271.1 235.2,277.2 233.2,283.2 232.7,289.2 230.2,295.2 228.2,297.2 219.2,296.2 217.2,289.2 215.1,278.2 210.1,270.1 205.1,263.1 199.1,258.1 193.1,255.1 190.1,253.1 194.1,247.6 198.6,245 196.1,241.5 192.1,242 190.1,239.5 186.6,243 185.6,236" fill="#80FF80"/>
<polygon points="186.6,243 190.1,239.5 192.1,242 196.1,241.5 198.6,245 194.1,247.6 191.6,252.1 188.6,254.6 186.1,257.1" fill="#FF8000"/>
<polygon points="181,241 182.5,242 184,247.6 183.8,251.6 182.5,250.1" fill="#FF8000"/>
<polygon points="225.7,230 252.3,230 257.3,233 260.3,235 258.3,240 257.3,250.1 255.3,257.6 250.3,253.1 247.3,247.1 244.2,243 240.2,244 235.2,245 232.2,243 229.2,237" fill="#80FF80"/>
<polygon points="260.3,235 263.3,233 266.3,237 270.3,234 278.4,230 285.4,230 284.4,236 280.4,240 275.3,247.1 270.3,249.1 271.3,260.1 273.3,267.1 272.3,271.1 268.3,269.1 264.3,267.1 260.3,263.1 255.3,258.1 257.3,250.1 258.3,240" fill="#00FFFF"/>
<polygon points="283.4,230 291.4,230 294.4,234 302.4,235 303.4,238 297.4,238 290.4,239.5 285.4,236" fill="#80FF80"/>
<polygon points="288.4,240 296.4,239 299.4,243 299.4,249.1 308.5,251.1 309.5,254.1 304.4,260.1 300.4,262.1 294.4,260.1 291.4,253.1 289.4,246.1" fill="#00FFFF"/>
<polygon points="299.4,243 302.4,242 308.5,245 312.5,247.1 310.5,250.1 308.5,251.1 299.4,249.1" fill="#80FF80"/>
<polygon points="256.3,272.1 260.3,271.1 264.3,273.1 271.3,273.1 272.3,277.2 264.3,278.7 260.3,277.2" fill="#80FF80"/>
<polygon points="239.7,264.1 241.7,263.6 242.4,265.3 240.7,266.1" fill="#80FF80"/>
<polygon points="303.4,263.1 310.5,261.1 320.5,263.1 322.5,264.1 322.5,282.2 318.5,277.2 315.5,272.1 310.5,268.1 302.4,267.6" fill="#80FF80"/>
<polygon points="299.9,269.1 303.4,267.1 310.5,268.6 315,273.1 316,278.2 312.5,284.2 309.5,289.2 305.4,289.2 302.4,286.2 300.4,278.2" fill="#FFFF00"/>
<polygon points="218.2,296.2 228.2,297.2 230.2,308.3 234.2,313.3 235.2,330.3 214.1,330.3 213.1,317.3 216.2,310.3 218.2,304.2" fill="#00FFFF"/>
<polygon points="218.2,304.2 230.2,308.3 230.2,311.3 218.2,307.3" fill="#80FF80"/>
<polygon points="202.1,298.2 203.6,299.2 207.1,308.3 213.1,317.3 212.1,318.3 206.1,309.3" fill="#00FFFF"/>
<polygon points="203.1,298.2 218.2,298.2 218.2,310.3 215.7,313.3 213.1,316.3 207.6,308.3" fill="#0080FF"/>
<polygon points="316,224 322,228 330,232 333,230 356.1,230 358.1,233 358.6,242 352.1,243 342.1,244 334,243 333,250.1 338.1,257.1 345.1,265.1 351.1,272.1 354.1,280.2 356.1,287.2 358.1,295.2 359.6,305.2 360.1,330.3 321,330.3 321,304.2 323.5,304.2 324,288.2 321,284.2 318,245" fill="#80FF80"/>
<polygon points="334,243 342.1,244 352.1,243 358.6,242 359.1,258.1 357.6,263.1 355.6,270.1 355.1,278.2 351.1,272.1 345.1,265.1 338.1,257.1 333,250.1" fill="#00FFFF"/>
<polygon points="340.1,265.1 345.1,265.1 351.1,272.1 355.1,280.2 356.1,287.2 352.1,284.2 348.1,277.2 344.1,270.1" fill="#0080FF"/>
<polygon points="322,242 327,241 329,245 325,248.1 322,247.1" fill="#0080FF"/>
<polygon points="328,251.1 332,249.1 333.5,252.1 330,254.6" fill="#0080FF"/>
<polygon points="331,260.1 336,259.1 338.1,262.1 334,264.6" fill="#0080FF"/>
<polygon points="335,268.1 340.1,267.1 343.1,270.1 340.1,272.6 336,271.1" fill="#0080FF"/>
<polygon points="338.1,277.2 343.1,275.7 347.1,279.2 344.1,282.7 340.1,282.2" fill="#0080FF"/>
<polygon points="342.1,286.2 347.1,284.7 352.1,286.2 351.1,288.7 345.1,290.2" fill="#0080FF"/>
<polygon points="341.1,292.2 345.1,291.2 349.1,300.2 345.1,302.7 341.1,299.2" fill="#0080FF"/>
<polygon points="335,293.2 338.6,291.2 339.6,294.2 337,295.2" fill="#0080FF"/>
<polygon points="341.1,308.3 350.1,304.2 357.1,307.3 359.1,311.3 357.1,314.3 351.1,316.8 344.1,315.3" fill="#0080FF"/>
<polygon points="326,310.3 332,311.3 335,318.3 338.1,320.3 338.1,330.3 322,330.3 322,326.3 326,320.3" fill="#00FFFF"/>
<polygon points="321,286.2 324,288.2 323.5,304.2 321,304.2" fill="#0080FF"/>
<polygon points="387.2,230 412.3,230 416.3,248.1 412.3,247.1 407.3,243 402.3,244 399.3,249.1 394.2,259.1 387.2,264.1 387.2,259.1 388.7,253.1" fill="#00FFFF"/>
<polygon points="359.6,258.1 365.1,260.1 372.2,265.1 373.2,271.6 379.2,274.1 382.2,274.6 385.2,271.1 386.2,273.1 382.2,276.2 372.2,273.1 370.2,267.1 364.1,262.1 359.1,260.1" fill="#00FFFF"/>
<polygon points="218.2,300 218.2,305 230.2,310 234.2,313 235.2,328.1 234.2,343.1 236.2,348.2 237.2,357.2 234.2,358.2 226.2,352.2 214.6,349.2 213.1,330.1 211.1,314 214.1,313 217.2,310" fill="#00FFFF"/>
<polygon points="218.2,304 230.2,309 230.2,311 218.2,307" fill="#80FF80"/>
<polygon points="235.2,328.1 240.2,331.1 245.2,332.6 253.3,329.1 256.8,326.1 258.3,330.1 257.3,336.1 253.3,338.1 246.3,341.1 240.2,339.1 235.2,336.1" fill="#80FF80"/>
<polygon points="235.2,336.1 240.2,339.1 246.3,341.1 253.3,338.1 258.3,341.1 251.3,346.2 250.3,350.2 246.3,349.7 240.2,349.2 236.2,346.2 234.2,343.1" fill="#00FFFF"/>
<polygon points="235.2,345.1 237.2,348.2 246.3,349.7 250.3,350.2 249.8,356.2 248.3,358.7 243.2,359.7 238.2,358.2 237,352.2" fill="#FF8000"/>
<polygon points="251.3,346.2 253.3,342.6 258.3,341.1 258.8,351.2 255.3,351.7 250.8,350.2" fill="#FF8000"/>
<polygon points="250.3,351.2 255.3,351.7 258.8,351.2 257.3,359.2 242.2,361.2 248.3,358.7 249.8,356.2" fill="#00FFFF"/>
<polygon points="286.4,339.1 295.4,343.1 298.4,340.1 303.4,341.1 305.4,336.1 311.5,334.1 322.5,332.1 322.5,348.2 314.5,352.2 301.4,355.2 294.4,352.2 285.9,341.1" fill="#00FFFF"/>
<polygon points="260.3,318.1 262.3,327.1 264.3,328.1 266.3,318.1 270.3,327.1 275.3,334.6 277.9,330.1 280.4,321.1 275.3,325.1 270.3,324.1 266.3,317.1" fill="#00FFFF"/>
<polygon points="323.3,285 336.3,285 339.3,293 340.3,300 338.3,310.1 336.3,319.1 333.3,312.1 329.3,310.1 326.3,313.1 324.3,319.1 322.3,323.1 320.2,328.1 315.2,329.1 316.2,320.1 319.2,312.1 321.2,304 323.8,302" fill="#80FF80"/>
<polygon points="286.1,339.2 296.2,343.2 298.2,340.2 302.2,341.2 306.2,335.1 310.2,334.1 315.2,329.1 320.2,328.1 324.3,319.1 326.3,313.1 329.3,310.1 333.3,312.1 336.3,319.1 338.3,325.1 341.3,335.1 343.3,346.2 346.3,356.2 347.3,368.8 343.3,365.7 338.3,360.2 332.3,352.2 329.3,348.2 316.2,351.2 301.2,355.2 294.2,351.2 285.6,342.2" fill="#00FFFF"/>
<polygon points="340.3,290 357.4,290 360.9,303 361.1,360.2 358.4,365.7 351.3,369.3 347.3,368.8 346.3,356.2 343.3,346.2 341.3,335.1 338.3,325.1 336.3,319.1 338.3,310.1 340.3,300" fill="#80FF80"/>
<polygon points="340.8,310.1 350.3,304 356.4,307.1 359.4,310.1 358.9,314.1 350.3,316.6 342.3,314.1" fill="#0080FF"/>
<polygon points="335.3,294 338.3,291 340.3,290 345.3,290 348.3,300 343.3,303 340.3,302 338.3,295" fill="#0080FF"/>
<polygon points="270,195 422.5,195 422.5,295.6 270,295.6" fill="#0080FF"/>
<polygon points="270,205 273.5,204.5 274,207.5 270.5,208.5" fill="#80FF80"/>
<polygon points="271,196 273.5,196.2 273.8,198.5 271.2,198.8" fill="#80FF80"/>
<polygon points="295.6,206 297.1,205.8 299.3,211.6 298.1,212.1" fill="#80FF80"/>
<polygon points="278,218.1 283,217.6 288.1,216.1 296.1,214.6 300.1,219.1 302.1,221.1 297.1,224.1 293.1,228.1 291.6,233.1 295.1,234.6 302.1,236.1 302.1,239.1 296.1,239.6 288.1,238.6 285,235.1 282,227.1 280,222.1" fill="#80FF80"/>
<polygon points="270,231.1 275,229.1 281,226.6 282.5,228.1 285,235.1 283,238.1 279,241.2 276,245.2 272,249.2 270,250.2" fill="#00FFFF"/>
<polygon points="288.1,238.6 296.1,239.6 300.1,242.2 299.1,248.2 302.1,249.7 310.1,250.2 311.1,253.2 307.1,255.2 305.1,259.2 300.1,261.2 295.1,260.2 292.1,255.2 290.1,248.2" fill="#00FFFF"/>
<polygon points="299.1,243.2 301.1,242.2 305.1,244.2 312.1,245.2 312.6,248.2 310.1,250.2 302.1,249.7 299.1,248.2" fill="#80FF80"/>
<polygon points="305.1,259.2 307.1,255.2 311.1,253.2 315.1,254.2 316.7,256.2 314.1,259.2 308.1,259.7" fill="#80FF80"/>
<polygon points="308.1,213.6 315.1,209 317.2,211.1 320.2,208 326.2,210 329.2,209.5 327.2,214.1 324.2,219.1 322.2,223.6 319.2,220.1 316.2,216.6 313.1,215.1" fill="#80FF80"/>
<polygon points="304.1,215.6 306.6,214.9 307.3,216.6 305.1,217.3" fill="#00FFFF"/>
<polygon points="333.2,211.1 338.2,210 342.2,208.5 344.2,212.1 350.3,211.1 355.3,208 359.8,207 360.3,209 356.3,211.1 352.3,213.1 350.3,215.1 353.3,222.1 355.3,228.1 357.3,233.1 358.8,238.1 358.8,242.2 350.3,243.2 344.2,244.2 334.2,243.2 333.7,239.1 330.2,235.1 329.2,232.1 334.2,231.1 341.2,230.1 339.2,225.1 337.2,220.1 335.2,215.1" fill="#80FF80"/>
<polygon points="329.2,203 334.2,203.5 334.2,205.5 330.2,205.5" fill="#80FF80"/>
<polygon points="337.2,203.5 342.2,201 345.2,202.5 343.2,206 338.2,206.2" fill="#80FF80"/>
<polygon points="322.2,195 326.2,195 327.7,196.5 324.2,201 322.2,200.5" fill="#80FF80"/>
<polygon points="356.3,195 370.3,195 373.3,201 365.3,202 360.3,200.5 352.3,200 345.2,202 344.2,201" fill="#80FF80"/>
<polygon points="339.2,195 356.3,195 356.3,197 352.3,200 345.2,202 342.2,199" fill="#FFFF00"/>
<polygon points="317.2,241.2 319.2,237.1 322.7,235.1 327.2,240.1 332.2,247.2 336.2,254.2 340.2,261.2 344.2,267.2 348.3,274.3 353.3,285.3 356.3,295.6 344.2,295.6 342.2,287.3 339.2,280.3 335.2,271.3 330.2,263.2 326.2,255.2 322.2,248.2" fill="#80FF80"/>
<polygon points="310.1,227.1 313.1,228.1 318.2,232.1 322.7,235.1 319.2,237.1 317.2,241.2 314.1,239.1 311.1,235.1" fill="#FFFF00"/>
<polygon points="308.1,222.1 309.6,222.6 310.6,225.1 309.1,225.1" fill="#80FF80"/>
<polygon points="321.2,244.2 325.2,241.2 328.2,243.2 326.2,246.2 323.2,247.7" fill="#0080FF"/>
<polygon points="328.2,252.2 331.2,250.2 333.2,252.2 330.2,254.2" fill="#0080FF"/>
<polygon points="331.2,260.2 335.2,258.7 338.2,261.2 336.2,263.7 332.2,263.2" fill="#0080FF"/>
<polygon points="335.2,268.2 340.2,267.2 344.2,270.2 340.2,273.3 336.2,272.3" fill="#0080FF"/>
<polygon points="339.2,277.3 344.2,276.3 347.3,280.3 343.2,282.3" fill="#0080FF"/>
<polygon points="342.2,285.3 347.3,284.3 350.3,288.3 345.2,290.3" fill="#0080FF"/>
<polygon points="324.2,223.1 328.2,222.6 329.2,225.1 326.2,227.6" fill="#80FF80"/>
<polygon points="330.2,223.1 332.7,223.6 332.2,225.1" fill="#80FF80"/>
<polygon points="334.2,243.2 344.2,244.2 350.3,243.2 358.8,242.2 359.3,255.2 357.3,265.2 355.3,270.2 354.8,277.3 350.3,269.2 346.3,265.2 340.2,262.2 336.2,254.2 334.2,249.2" fill="#00FFFF"/>
<polygon points="303.1,263.2 310.1,262.2 318.2,265.2 326.2,271.3 332.2,278.3 336.2,285.3 339.2,295.6 324.2,295.6 322.2,287.3 318.2,280.3 316.2,275.3 314.1,271.3 310.1,268.2 304.1,267.2 300.1,268.2" fill="#80FF80"/>
<polygon points="300.1,263.7 303.6,263.2 304.1,266.2 300.6,267.7" fill="#00FFFF"/>
<polygon points="319.2,264.2 323.2,265.2 324.7,267.7 321.2,267.2" fill="#0080FF"/>
<polygon points="299.6,269.2 303.1,267.7 310.1,268.7 314.1,271.3 316.7,277.3 314.1,283.3 310.1,287.3 307.1,289.8 303.1,287.3 301.1,281.3 299.6,275.3" fill="#FFFF00"/>
<polygon points="270,251.2 271.5,255.2 273,265.2 272,271.3 270,271.3" fill="#00FFFF"/>
<polygon points="270,273.3 272,274.3 271.5,278.3 270,278.3" fill="#80FF80"/>
<polygon points="387.4,199 394.4,198.5 396.4,203 397.9,213.1 400.4,218.1 401.4,214.1 404.4,215.1 405.4,219.1 408,219.1 410.5,228.1 413.5,235.1 415.5,243.2 417.5,249.2 410.5,245.2 405.4,243.2 400.4,245.2 398.4,249.2 395.4,254.2 394.4,259.2 386.4,264.2 386.4,259.2 388.4,255.2 388.4,245.2 390.4,235.1 389.9,207" fill="#00FFFF"/>
<polygon points="374.3,195 378.4,195 384.4,199 383.4,200.5 376.4,197" fill="#00FFFF"/>
<polygon points="358.8,254.2 364.3,255.2 370.3,259.2 373.3,265.2 373.3,271.3 380.4,275.3 384.4,273.8 385.4,265.2 383.4,271.3 378.9,272.8 374.3,269.2 372.3,260.2 366.3,257.2 358.8,257.7" fill="#00FFFF"/>
</g>
<text class="tk" text-anchor="end" x="89.5" y="142.8">900</text>
<text class="tk" text-anchor="end" x="88.1" y="185.3">800</text>
<text class="tk" text-anchor="end" x="87.3" y="227.4">700</text>
<text class="tk" text-anchor="end" x="86.4" y="269.7">600</text>
<text class="tk" text-anchor="end" x="86.5" y="312.4">500</text>
<text class="tk" text-anchor="middle" x="101.1" y="346.2">6500</text>
<text class="tk" text-anchor="middle" x="145" y="369.4">6000</text>
<text class="tk" text-anchor="middle" x="189.3" y="393.9">5500</text>
<text class="tk" text-anchor="middle" x="230" y="416.2">5000</text>
<text class="tk" text-anchor="middle" x="373.2" y="427.9">3000</text>
<text class="tk" text-anchor="middle" x="412.8" y="415.1">3500</text>
<text class="tk" text-anchor="middle" x="452.4" y="402.2">4000</text>
<text class="tk" text-anchor="middle" x="492" y="389.4">4500</text>
<text class="tk" text-anchor="middle" x="531.6" y="376.6">5000</text>
<text class="tk" text-anchor="middle" x="571.2" y="363.8">5500</text>
<text class="tk" text-anchor="middle" x="610.8" y="350.9">6000</text>
<text class="al" text-anchor="middle" transform="translate(46.6 226.7) rotate(-90)">Elevation (m)</text>
<text class="al" text-anchor="middle" transform="translate(110 402) rotate(30.5)">Northing (m)</text>
<text class="al" text-anchor="middle" x="536.8" y="418.2">Easting (m)</text>
</g>
<ellipse class="el" cx="310.4" cy="296.7" rx="29.3" ry="36.9"/>
<ellipse class="el" cx="411" cy="219" rx="29.3" ry="36.5"/>
<rect x="655.3" y="19.6" width="27.6" height="69.2" fill="#FF8000"/>
<rect x="655.3" y="88.5" width="27.6" height="69.2" fill="#FFFF00"/>
<rect x="655.3" y="157.4" width="27.6" height="69.2" fill="#80FF80"/>
<rect x="655.3" y="226.2" width="27.6" height="69.2" fill="#00FFFF"/>
<rect x="655.3" y="295.1" width="27.6" height="69.2" fill="#0080FF"/>
<path class="ct" d="M655.3 54h3M682.9 54h-3"/>
<text class="dl" x="689.4" y="60">D5</text>
<path class="ct" d="M655.3 122.9h3M682.9 122.9h-3"/>
<text class="dl" x="689.4" y="128.9">D4</text>
<path class="ct" d="M655.3 191.8h3M682.9 191.8h-3"/>
<text class="dl" x="689.4" y="197.8">D3</text>
<path class="ct" d="M655.3 260.7h3M682.9 260.7h-3"/>
<text class="dl" x="689.4" y="266.7">D2</text>
<path class="ct" d="M655.3 329.6h3M682.9 329.6h-3"/>
<text class="dl" x="689.4" y="335.6">D1</text>
<text class="pl" x="58.2" y="468.3">(a)</text>
</g>
<g id="panel-b">
<g transform="translate(768.6 -3)">
<path class="gf" d="M131.7 294.7L345.7 410.7M171.6 282L385.6 398M211.6 269.2L425.6 385.2M251.6 256.5L465.6 372.5M291.6 243.7L505.6 359.7M331.5 231L545.5 347M371.5 218.2L585.5 334.2M135.3 330.4L414.3 241.4M178.1 353.6L457.1 264.6M220.9 376.8L499.9 287.9M263.7 400L542.7 311.1"/>
<path class="gs" d="M92.5 307.2L371.5 218.2M92.5 264.7L371.5 175.8M92.5 222.2L371.5 133.2M92.5 179.7L371.5 90.8M92.5 137.2L371.5 48.2M371.5 218.2L585.5 334.2M371.5 175.8L585.5 291.8M371.5 133.2L585.5 249.2M371.5 90.8L585.5 206.8M371.5 48.2L585.5 164.2"/>
<path class="gv" d="M131.7 294.7L131.7 124.7M171.6 282L171.6 112M211.6 269.2L211.6 99.2M251.6 256.5L251.6 86.5M291.6 243.7L291.6 73.7M331.5 231L331.5 61M371.5 218.2L371.5 48.2M414.3 241.4L414.3 71.4M457.1 264.6L457.1 94.6M499.9 287.9L499.9 117.9M542.7 311.1L542.7 141.1M585.5 334.2L585.5 164.2"/>
<line class="axz" x1="92.5" y1="307.2" x2="92.5" y2="174.6"/>
<line class="gv" x1="92.5" y1="174.6" x2="92.5" y2="137.2"/>
<line class="axn" x1="92.5" y1="307.2" x2="306.5" y2="423.2"/>
<line class="axe" x1="306.5" y1="423.2" x2="585.5" y2="334.2"/>
<path class="ax" d="M135.3 330.4L127.2 333M178.1 353.6L170 356.2M220.9 376.8L212.8 379.4M263.7 400L255.6 402.6M345.7 410.7L353.6 415M385.6 398L393.6 402.3M425.6 385.2L433.5 389.5M465.6 372.5L473.5 376.8M505.6 359.7L513.5 364M545.5 347L553.4 351.3M585.5 334.2L593.4 338.5"/>
<g clip-path="url(#sil)"><g filter="url(#bl)">
<rect x="160" y="120" width="300" height="270" fill="#80ff80"/>
<use href="#jb"/>
</g>
<g filter="url(#bs)">
<use href="#js"/>
</g></g>
<text class="tk" text-anchor="end" x="89.5" y="142.8">900</text>
<text class="tk" text-anchor="end" x="88.1" y="185.3">800</text>
<text class="tk" text-anchor="end" x="87.3" y="227.4">700</text>
<text class="tk" text-anchor="end" x="86.4" y="269.7">600</text>
<text class="tk" text-anchor="end" x="86.5" y="312.4">500</text>
<text class="tk" text-anchor="middle" x="101.1" y="346.2">6500</text>
<text class="tk" text-anchor="middle" x="145" y="369.4">6000</text>
<text class="tk" text-anchor="middle" x="189.3" y="393.9">5500</text>
<text class="tk" text-anchor="middle" x="230" y="416.2">5000</text>
<text class="tk" text-anchor="middle" x="369.6" y="429.7">3000</text>
<text class="tk" text-anchor="middle" x="409.2" y="416.9">3500</text>
<text class="tk" text-anchor="middle" x="448.8" y="404">4000</text>
<text class="tk" text-anchor="middle" x="488.4" y="391.2">4500</text>
<text class="tk" text-anchor="middle" x="528" y="378.4">5000</text>
<text class="tk" text-anchor="middle" x="567.6" y="365.6">5500</text>
<text class="tk" text-anchor="middle" x="607.2" y="352.7">6000</text>
<text class="al" text-anchor="middle" transform="translate(47.3 226.7) rotate(-90)">Elevation (m)</text>
<text class="al" text-anchor="middle" transform="translate(110 402) rotate(30.5)">Northing (m)</text>
<text class="al" text-anchor="middle" x="536.8" y="418.2">Easting (m)</text>
</g>
<ellipse class="el" cx="1078.5" cy="293.9" rx="29.9" ry="36.7"/>
<ellipse class="el" cx="1181.9" cy="215" rx="29.5" ry="36.7"/>
<rect x="1423.8" y="16" width="28.1" height="344" fill="url(#jet)"/>
<text class="tk" x="1458.9" y="364.8">0</text>
<path class="ct" d="M1423.8 309.4h3M1451.9 309.4h-3"/>
<text class="tk" x="1458.9" y="314.2">10</text>
<path class="ct" d="M1423.8 258.8h3M1451.9 258.8h-3"/>
<text class="tk" x="1458.9" y="263.6">20</text>
<path class="ct" d="M1423.8 208.2h3M1451.9 208.2h-3"/>
<text class="tk" x="1458.9" y="213">30</text>
<path class="ct" d="M1423.8 157.6h3M1451.9 157.6h-3"/>
<text class="tk" x="1458.9" y="162.4">40</text>
<path class="ct" d="M1423.8 107.1h3M1451.9 107.1h-3"/>
<text class="tk" x="1458.9" y="111.9">50</text>
<path class="ct" d="M1423.8 56.5h3M1451.9 56.5h-3"/>
<text class="tk" x="1458.9" y="61.3">60</text>
<text class="al" text-anchor="middle" transform="translate(1497.1 188) rotate(-90)">Fe (%)</text>
<text class="pl" x="818.2" y="468.3">(b)</text>
</g>
<g id="panel-c">
<g transform="translate(-2.4 502.8)">
<path class="gf" d="M131.7 294.7L345.7 410.7M171.6 282L385.6 398M211.6 269.2L425.6 385.2M251.6 256.5L465.6 372.5M291.6 243.7L505.6 359.7M331.5 231L545.5 347M371.5 218.2L585.5 334.2M135.3 330.4L414.3 241.4M178.1 353.6L457.1 264.6M220.9 376.8L499.9 287.9M263.7 400L542.7 311.1"/>
<path class="gs" d="M92.5 307.2L371.5 218.2M92.5 264.7L371.5 175.8M92.5 222.2L371.5 133.2M92.5 179.7L371.5 90.8M92.5 137.2L371.5 48.2M371.5 218.2L585.5 334.2M371.5 175.8L585.5 291.8M371.5 133.2L585.5 249.2M371.5 90.8L585.5 206.8M371.5 48.2L585.5 164.2"/>
<path class="gv" d="M131.7 294.7L131.7 124.7M171.6 282L171.6 112M211.6 269.2L211.6 99.2M251.6 256.5L251.6 86.5M291.6 243.7L291.6 73.7M331.5 231L331.5 61M371.5 218.2L371.5 48.2M414.3 241.4L414.3 71.4M457.1 264.6L457.1 94.6M499.9 287.9L499.9 117.9M542.7 311.1L542.7 141.1M585.5 334.2L585.5 164.2"/>
<line class="axz" x1="92.5" y1="307.2" x2="92.5" y2="175.4"/>
<line class="axn" x1="92.5" y1="307.2" x2="306.5" y2="423.2"/>
<line class="axe" x1="306.5" y1="423.2" x2="585.5" y2="334.2"/>
<path class="ax" d="M135.3 330.4L127.2 333M178.1 353.6L170 356.2M220.9 376.8L212.8 379.4M263.7 400L255.6 402.6M345.7 410.7L353.6 415M385.6 398L393.6 402.3M425.6 385.2L433.5 389.5M465.6 372.5L473.5 376.8M505.6 359.7L513.5 364M545.5 347L553.4 351.3M585.5 334.2L593.4 338.5"/>
<g clip-path="url(#sil)"><g filter="url(#bl)">
<rect x="160" y="120" width="300" height="270" fill="#80ff80"/>
<use href="#jb"/>
<polygon points="382.5,192.3 392.5,187.2 399.5,183.2 406.5,181.2 406.5,217.3 400.5,214.3 396.5,201.3 390.5,197.3 385.5,207.3 384.5,217.3 382.5,217.3" fill="#daff25"/>
<polygon points="399.5,187.2 406.5,184.2 407,217.3 402.5,213.3 399.5,207.3" fill="#f8ff07"/>
<polygon points="406.5,180.2 416.5,179.2 432.6,192.3 432.6,250.4 417.5,250.4 415.5,239.3 412.5,232.3 409.5,223.3 407.5,217.3" fill="#ffca00"/>
<polygon points="414.5,181.2 422.5,187.2 431.6,193.3 432.1,207.3 426.5,202.3 422.5,192.3" fill="#ff9e00"/>
<polygon points="389.5,198.3 393.5,198.3 396.5,201.3 397.5,213.3 400.5,214.3 402.5,218.3 404.5,225.3 406.5,231.3 408.5,237.3 410.5,242.4 406.5,243.4 402.5,245.4 399.5,247.4 392.5,237.3 390.5,223.3 392.5,207.3" fill="#34ffcb"/>
<polygon points="392.5,219.3 397.5,217.3 400.5,227.3 399.5,239.3 394.5,235.3" fill="#07fff8"/>
<polygon points="400.5,213.3 403.5,213.3 404,218.3 408,218.3 409.5,225.3 411.5,231.3 413.5,236.3 415.5,239.3 417.3,248.4 412.5,245.4 409.5,240.3 406.5,231.3 403.5,224.3 401.5,218.3" fill="#009eff"/>
<polygon points="282.5,287.3 292.5,269.2 300.5,266.2 312.5,265.2 322.5,277.3 328.6,297.3 326.5,317.3 316.5,330.4 302.5,330.4 290.5,323.4 283.5,307.3" fill="#daff25"/>
<polygon points="293.5,287.3 299.5,286.3 301.5,292.3 297.5,296.3 293.5,293.3" fill="#62ff9e"/>
<polygon points="285.5,299.3 294.5,297.3 296.5,317.3 302.5,330.4 294.5,326.4 287.5,315.3" fill="#9eff62"/>
<polygon points="312.5,265.2 322.5,267.2 332.6,277.3 338.1,292.3 338.1,307.3 332.6,319.3 324.5,307.3 324,301.3 323.5,289.3 321.5,282.3 316.5,278.3 312.5,270.2" fill="#fff800"/>
<polygon points="330.6,285.3 337.6,289.3 338.1,303.3 332.6,301.3" fill="#ffca00"/>
<polygon points="300.5,268.2 306.5,267.2 312.5,270.2 317.5,277.3 312.5,283.3 310.5,287.3 304.5,279.3 300.5,274.3" fill="#ff9e00"/>
<polygon points="311.5,284.3 316.5,278.3 321.5,282.3 323.5,289.3 324,301.3 321.5,311.3 318.5,317.3 316.5,325.4 315.5,329.9 312.5,329.9 315.5,323.4 316.5,311.3 315.5,297.3 312.5,289.3" fill="#ff5300"/>
<polygon points="292.5,326.4 312.5,330.4 332.6,323.4 330.6,333.4 312.5,335.4 294.5,333.4" fill="#70ff8e"/>
</g>
<g filter="url(#bs)">
<use href="#js"/>
<polygon points="400.7,213.5 403.5,213.5 404.1,218.3 408,218.5 409.5,225.3 411.5,231.3 413.5,236.3 415.5,239.3 417.1,248 413,245.2 409.7,240.3 406.7,231.3 403.7,224.3 401.7,218.3" fill="#009eff"/>
<polygon points="407.3,187.2 416.5,185.2 430.6,197.3 431.6,245.4 418.5,248.4 416,238.8 413,231.8 410,223.3 408,217.3" fill="#ffca00"/>
<polygon points="416.5,184.2 422.5,188.2 431.1,194.3 431.6,207.3 427,202.3 423,192.8" fill="#ff9e00"/>
<polygon points="311.7,284.5 316.5,278.5 321.3,282.5 323.3,289.3 323.8,301.3 321.3,311.3 318.5,317.3 316.7,325.4 315.5,329.7 312.7,329.7 315.5,323.4 316.5,311.3 315.5,297.3 312.7,289.3" fill="#ff5300"/>
<polygon points="300.7,268.4 306.5,267.4 312.5,270.4 317.3,277.3 312.5,283.1 310.5,287.1 304.7,279.3 300.7,274.3" fill="#ff9e00"/>
</g></g>
<text class="tk" text-anchor="end" x="89.5" y="142.8">900</text>
<text class="tk" text-anchor="end" x="88.1" y="185.3">800</text>
<text class="tk" text-anchor="end" x="87.3" y="227.4">700</text>
<text class="tk" text-anchor="end" x="86.4" y="269.7">600</text>
<text class="tk" text-anchor="end" x="86.5" y="312.4">500</text>
<text class="tk" text-anchor="middle" x="101.1" y="346.2">6500</text>
<text class="tk" text-anchor="middle" x="145" y="369.4">6000</text>
<text class="tk" text-anchor="middle" x="189.3" y="393.9">5500</text>
<text class="tk" text-anchor="middle" x="230" y="416.2">5000</text>
<text class="tk" text-anchor="middle" x="371.2" y="427.9">3000</text>
<text class="tk" text-anchor="middle" x="410.8" y="415.1">3500</text>
<text class="tk" text-anchor="middle" x="450.4" y="402.2">4000</text>
<text class="tk" text-anchor="middle" x="490" y="389.4">4500</text>
<text class="tk" text-anchor="middle" x="529.6" y="376.6">5000</text>
<text class="tk" text-anchor="middle" x="569.2" y="363.8">5500</text>
<text class="tk" text-anchor="middle" x="608.8" y="350.9">6000</text>
<text class="al" text-anchor="middle" transform="translate(47.6 226.7) rotate(-90)">Elevation (m)</text>
<text class="al" text-anchor="middle" transform="translate(110 402) rotate(30.5)">Northing (m)</text>
<text class="al" text-anchor="middle" x="536.8" y="418.2">Easting (m)</text>
</g>
<ellipse class="el" cx="307.8" cy="800.9" rx="29.2" ry="36.3"/>
<ellipse class="el" cx="409.6" cy="718.4" rx="29.1" ry="35.9"/>
<rect x="652.7" y="517" width="28.1" height="345" fill="url(#jet)"/>
<text class="tk" x="687.8" y="866.8">0</text>
<path class="ct" d="M652.7 811.3h3M680.8 811.3h-3"/>
<text class="tk" x="687.8" y="816.1">10</text>
<path class="ct" d="M652.7 760.5h3M680.8 760.5h-3"/>
<text class="tk" x="687.8" y="765.3">20</text>
<path class="ct" d="M652.7 709.8h3M680.8 709.8h-3"/>
<text class="tk" x="687.8" y="714.6">30</text>
<path class="ct" d="M652.7 659.1h3M680.8 659.1h-3"/>
<text class="tk" x="687.8" y="663.9">40</text>
<path class="ct" d="M652.7 608.3h3M680.8 608.3h-3"/>
<text class="tk" x="687.8" y="613.1">50</text>
<path class="ct" d="M652.7 557.6h3M680.8 557.6h-3"/>
<text class="tk" x="687.8" y="562.4">60</text>
<text class="al" text-anchor="middle" transform="translate(728.1 689.5) rotate(-90)">Fe (%)</text>
<text class="pl" x="61.5" y="985">(c)</text>
</g>
<g id="panel-d">
<g transform="translate(769.6 504.8)">
<path class="gf" d="M131.7 294.7L345.7 410.7M171.6 282L385.6 398M211.6 269.2L425.6 385.2M251.6 256.5L465.6 372.5M291.6 243.7L505.6 359.7M331.5 231L545.5 347M371.5 218.2L585.5 334.2M135.3 330.4L414.3 241.4M178.1 353.6L457.1 264.6M220.9 376.8L499.9 287.9M263.7 400L542.7 311.1"/>
<path class="gs" d="M92.5 307.2L371.5 218.2M92.5 264.7L371.5 175.8M92.5 222.2L371.5 133.2M92.5 179.7L371.5 90.8M92.5 137.2L371.5 48.2M371.5 218.2L585.5 334.2M371.5 175.8L585.5 291.8M371.5 133.2L585.5 249.2M371.5 90.8L585.5 206.8M371.5 48.2L585.5 164.2"/>
<path class="gv" d="M131.7 294.7L131.7 124.7M171.6 282L171.6 112M211.6 269.2L211.6 99.2M251.6 256.5L251.6 86.5M291.6 243.7L291.6 73.7M331.5 231L331.5 61M371.5 218.2L371.5 48.2M414.3 241.4L414.3 71.4M457.1 264.6L457.1 94.6M499.9 287.9L499.9 117.9M542.7 311.1L542.7 141.1M585.5 334.2L585.5 164.2"/>
<line class="axz" x1="92.5" y1="307.2" x2="92.5" y2="261.3"/>
<line class="axn" x1="92.5" y1="307.2" x2="306.5" y2="423.2"/>
<line class="axe" x1="306.5" y1="423.2" x2="585.5" y2="334.2"/>
<path class="ax" d="M135.3 330.4L127.2 333M178.1 353.6L170 356.2M220.9 376.8L212.8 379.4M263.7 400L255.6 402.6M345.7 410.7L353.6 415M385.6 398L393.6 402.3M425.6 385.2L433.5 389.5M465.6 372.5L473.5 376.8M505.6 359.7L513.5 364M545.5 347L553.4 351.3M585.5 334.2L593.4 338.5"/>
<g clip-path="url(#sil)"><g filter="url(#bl)">
<rect x="160" y="120" width="300" height="270" fill="#80ff80"/>
<use href="#jb"/>
<polygon points="382.5,192.3 392.5,187.2 399.5,183.2 406.5,181.2 406.5,217.3 400.5,214.3 396.5,201.3 390.5,197.3 385.5,207.3 384.5,217.3 382.5,217.3" fill="#daff25"/>
<polygon points="399.5,187.2 406.5,184.2 407,217.3 402.5,213.3 399.5,207.3" fill="#f8ff07"/>
<polygon points="406.5,180.2 416.5,179.2 432.6,192.3 432.6,250.4 417.5,250.4 415.5,239.3 412.5,232.3 409.5,223.3 407.5,217.3" fill="#ffca00"/>
<polygon points="414.5,181.2 422.5,187.2 431.6,193.3 432.1,207.3 426.5,202.3 422.5,192.3" fill="#ff9e00"/>
<polygon points="389.5,198.3 393.5,198.3 396.5,201.3 397.5,213.3 400.5,214.3 402.5,218.3 404.5,225.3 406.5,231.3 408.5,237.3 410.5,242.4 406.5,243.4 402.5,245.4 399.5,247.4 392.5,237.3 390.5,223.3 392.5,207.3" fill="#34ffcb"/>
<polygon points="392.5,219.3 397.5,217.3 400.5,227.3 399.5,239.3 394.5,235.3" fill="#07fff8"/>
<polygon points="400.5,213.3 403.5,213.3 404,218.3 408,218.3 409.5,225.3 411.5,231.3 413.5,236.3 415.5,239.3 417.3,248.4 412.5,245.4 409.5,240.3 406.5,231.3 403.5,224.3 401.5,218.3" fill="#009eff"/>
<polygon points="282.5,287.3 292.5,269.2 300.5,266.2 312.5,265.2 322.5,277.3 328.6,297.3 326.5,317.3 316.5,330.4 302.5,330.4 290.5,323.4 283.5,307.3" fill="#daff25"/>
<polygon points="293.5,287.3 299.5,286.3 301.5,292.3 297.5,296.3 293.5,293.3" fill="#62ff9e"/>
<polygon points="285.5,299.3 294.5,297.3 296.5,317.3 302.5,330.4 294.5,326.4 287.5,315.3" fill="#9eff62"/>
<polygon points="312.5,265.2 322.5,267.2 332.6,277.3 338.1,292.3 338.1,307.3 332.6,319.3 324.5,307.3 324,301.3 323.5,289.3 321.5,282.3 316.5,278.3 312.5,270.2" fill="#fff800"/>
<polygon points="330.6,285.3 337.6,289.3 338.1,303.3 332.6,301.3" fill="#ffca00"/>
<polygon points="300.5,268.2 306.5,267.2 312.5,270.2 317.5,277.3 312.5,283.3 310.5,287.3 304.5,279.3 300.5,274.3" fill="#ff9e00"/>
<polygon points="311.5,284.3 316.5,278.3 321.5,282.3 323.5,289.3 324,301.3 321.5,311.3 318.5,317.3 316.5,325.4 315.5,329.9 312.5,329.9 315.5,323.4 316.5,311.3 315.5,297.3 312.5,289.3" fill="#ff5300"/>
<polygon points="292.5,326.4 312.5,330.4 332.6,323.4 330.6,333.4 312.5,335.4 294.5,333.4" fill="#70ff8e"/>
</g>
<g filter="url(#bs)">
<use href="#js"/>
<polygon points="400.7,213.5 403.5,213.5 404.1,218.3 408,218.5 409.5,225.3 411.5,231.3 413.5,236.3 415.5,239.3 417.1,248 413,245.2 409.7,240.3 406.7,231.3 403.7,224.3 401.7,218.3" fill="#009eff"/>
<polygon points="407.3,187.2 416.5,185.2 430.6,197.3 431.6,245.4 418.5,248.4 416,238.8 413,231.8 410,223.3 408,217.3" fill="#ffca00"/>
<polygon points="416.5,184.2 422.5,188.2 431.1,194.3 431.6,207.3 427,202.3 423,192.8" fill="#ff9e00"/>
<polygon points="311.7,284.5 316.5,278.5 321.3,282.5 323.3,289.3 323.8,301.3 321.3,311.3 318.5,317.3 316.7,325.4 315.5,329.7 312.7,329.7 315.5,323.4 316.5,311.3 315.5,297.3 312.7,289.3" fill="#ff5300"/>
<polygon points="300.7,268.4 306.5,267.4 312.5,270.4 317.3,277.3 312.5,283.1 310.5,287.1 304.7,279.3 300.7,274.3" fill="#ff9e00"/>
</g></g>
<text class="tk" text-anchor="end" x="89.5" y="142.8">900</text>
<text class="tk" text-anchor="end" x="88.1" y="185.3">800</text>
<text class="tk" text-anchor="end" x="87.3" y="227.4">700</text>
<text class="tk" text-anchor="end" x="86.4" y="269.7">600</text>
<text class="tk" text-anchor="end" x="86.5" y="312.4">500</text>
<text class="tk" text-anchor="middle" x="101.1" y="346.2">6500</text>
<text class="tk" text-anchor="middle" x="145" y="369.4">6000</text>
<text class="tk" text-anchor="middle" x="189.3" y="393.9">5500</text>
<text class="tk" text-anchor="middle" x="230" y="416.2">5000</text>
<text class="tk" text-anchor="middle" x="372.4" y="426.9">3000</text>
<text class="tk" text-anchor="middle" x="412" y="414.1">3500</text>
<text class="tk" text-anchor="middle" x="451.6" y="401.2">4000</text>
<text class="tk" text-anchor="middle" x="491.2" y="388.4">4500</text>
<text class="tk" text-anchor="middle" x="530.8" y="375.6">5000</text>
<text class="tk" text-anchor="middle" x="570.4" y="362.8">5500</text>
<text class="tk" text-anchor="middle" x="610" y="349.9">6000</text>
<text class="al" text-anchor="middle" transform="translate(47.3 226.7) rotate(-90)">Elevation (m)</text>
<text class="al" text-anchor="middle" transform="translate(110 402) rotate(30.5)">Northing (m)</text>
<text class="al" text-anchor="middle" x="536" y="417.5">Easting (m)</text>
</g>
<ellipse class="el" cx="1081" cy="802.1" rx="29.2" ry="36.6"/>
<ellipse class="el" cx="1182.6" cy="721.9" rx="29.1" ry="36.3"/>
<rect x="1425" y="519" width="28.1" height="345.2" fill="url(#jet)"/>
<text class="tk" x="1460.1" y="869">0</text>
<path class="ct" d="M1425 813.4h3M1453.1 813.4h-3"/>
<text class="tk" x="1460.1" y="818.2">10</text>
<path class="ct" d="M1425 762.7h3M1453.1 762.7h-3"/>
<text class="tk" x="1460.1" y="767.5">20</text>
<path class="ct" d="M1425 711.9h3M1453.1 711.9h-3"/>
<text class="tk" x="1460.1" y="716.7">30</text>
<path class="ct" d="M1425 661.1h3M1453.1 661.1h-3"/>
<text class="tk" x="1460.1" y="665.9">40</text>
<path class="ct" d="M1425 610.4h3M1453.1 610.4h-3"/>
<text class="tk" x="1460.1" y="615.2">50</text>
<path class="ct" d="M1425 559.6h3M1453.1 559.6h-3"/>
<text class="tk" x="1460.1" y="564.4">60</text>
<text class="al" text-anchor="middle" transform="translate(1499.4 691.6) rotate(-90)">Fe (%)</text>
<text class="pl" x="821" y="981.5">(d)</text>
</g>
</svg>
</body>
</html>
